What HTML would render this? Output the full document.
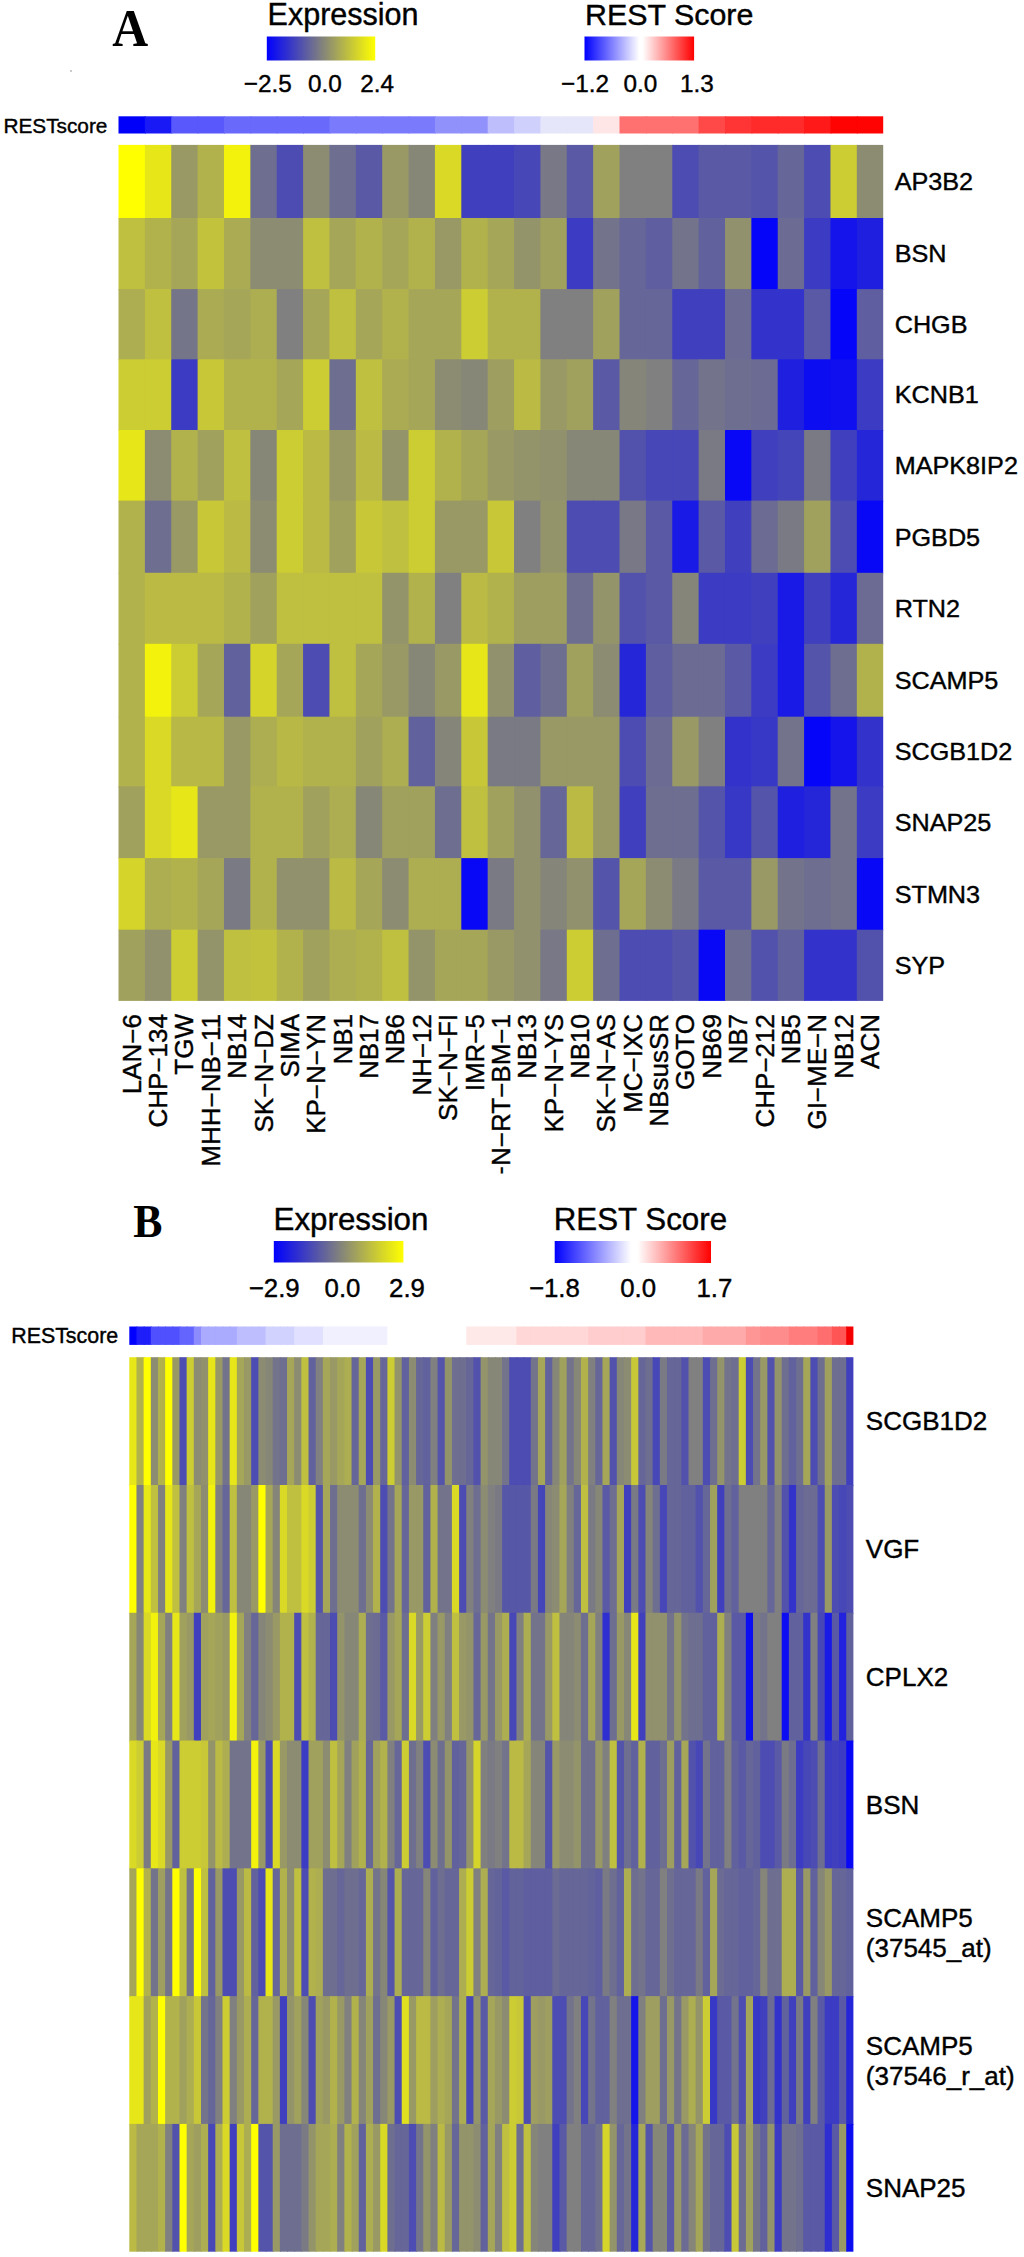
<!DOCTYPE html><html><head><meta charset="utf-8"><title>Heatmap</title><style>html,body{margin:0;padding:0;background:#fff;}body{width:1024px;height:2257px;overflow:hidden;position:relative;}svg{display:block;position:absolute;left:0;top:0;}text{font-family:'Liberation Sans', Arial, sans-serif;fill:#000;stroke:#000;stroke-width:0.4px;}.s{font-family:'Liberation Serif', 'Times New Roman', serif;font-weight:bold;stroke-width:0;}</style></head><body><svg width="1024" height="2257" viewBox="0 0 1024 2257"><defs><linearGradient id="ge" x1="0" x2="1" y1="0" y2="0"><stop offset="0" stop-color="#0000ff"/><stop offset="1" stop-color="#ffff00"/></linearGradient><linearGradient id="grA" x1="0" x2="1" y1="0" y2="0"><stop offset="0" stop-color="#0000ff"/><stop offset="0.50" stop-color="#ffffff"/><stop offset="0.53" stop-color="#ffffff"/><stop offset="1" stop-color="#ff0000"/></linearGradient><linearGradient id="grB" x1="0" x2="1" y1="0" y2="0"><stop offset="0" stop-color="#0000ff"/><stop offset="0.49" stop-color="#ffffff"/><stop offset="0.53" stop-color="#ffffff"/><stop offset="1" stop-color="#ff0000"/></linearGradient></defs><g><rect x="118.50" y="144.90" width="27.37" height="74.10" fill="#ffff00"/><rect x="144.87" y="144.90" width="27.37" height="74.10" fill="#e6e619"/><rect x="171.24" y="144.90" width="27.37" height="74.10" fill="#999966"/><rect x="197.61" y="144.90" width="27.37" height="74.10" fill="#b2b24d"/><rect x="223.98" y="144.90" width="27.37" height="74.10" fill="#f2f20d"/><rect x="250.34" y="144.90" width="27.37" height="74.10" fill="#6e6e91"/><rect x="276.71" y="144.90" width="27.37" height="74.10" fill="#4c4cb2"/><rect x="303.08" y="144.90" width="27.37" height="74.10" fill="#8c8c73"/><rect x="329.45" y="144.90" width="27.37" height="74.10" fill="#6e6e91"/><rect x="355.82" y="144.90" width="27.37" height="74.10" fill="#5959a6"/><rect x="382.19" y="144.90" width="27.37" height="74.10" fill="#999966"/><rect x="408.56" y="144.90" width="27.37" height="74.10" fill="#878778"/><rect x="434.93" y="144.90" width="27.37" height="74.10" fill="#d9d926"/><rect x="461.30" y="144.90" width="27.37" height="74.10" fill="#4040bf"/><rect x="487.67" y="144.90" width="27.37" height="74.10" fill="#4040bf"/><rect x="514.03" y="144.90" width="27.37" height="74.10" fill="#4747b8"/><rect x="540.40" y="144.90" width="27.37" height="74.10" fill="#787887"/><rect x="566.77" y="144.90" width="27.37" height="74.10" fill="#5959a6"/><rect x="593.14" y="144.90" width="27.37" height="74.10" fill="#a1a15e"/><rect x="619.51" y="144.90" width="27.37" height="74.10" fill="#808080"/><rect x="645.88" y="144.90" width="27.37" height="74.10" fill="#808080"/><rect x="672.25" y="144.90" width="27.37" height="74.10" fill="#4c4cb2"/><rect x="698.62" y="144.90" width="27.37" height="74.10" fill="#5959a6"/><rect x="724.99" y="144.90" width="27.37" height="74.10" fill="#5959a6"/><rect x="751.36" y="144.90" width="27.37" height="74.10" fill="#5454ab"/><rect x="777.72" y="144.90" width="27.37" height="74.10" fill="#666699"/><rect x="804.09" y="144.90" width="27.37" height="74.10" fill="#4c4cb2"/><rect x="830.46" y="144.90" width="27.37" height="74.10" fill="#cccc33"/><rect x="856.83" y="144.90" width="26.37" height="74.10" fill="#8c8c73"/><rect x="118.50" y="218.00" width="27.37" height="72.10" fill="#bfbf40"/><rect x="144.87" y="218.00" width="27.37" height="72.10" fill="#b2b24d"/><rect x="171.24" y="218.00" width="27.37" height="72.10" fill="#a6a659"/><rect x="197.61" y="218.00" width="27.37" height="72.10" fill="#c2c23d"/><rect x="223.98" y="218.00" width="27.37" height="72.10" fill="#abab54"/><rect x="250.34" y="218.00" width="27.37" height="72.10" fill="#8c8c73"/><rect x="276.71" y="218.00" width="27.37" height="72.10" fill="#8c8c73"/><rect x="303.08" y="218.00" width="27.37" height="72.10" fill="#bfbf40"/><rect x="329.45" y="218.00" width="27.37" height="72.10" fill="#a6a659"/><rect x="355.82" y="218.00" width="27.37" height="72.10" fill="#b2b24d"/><rect x="382.19" y="218.00" width="27.37" height="72.10" fill="#a6a659"/><rect x="408.56" y="218.00" width="27.37" height="72.10" fill="#b2b24d"/><rect x="434.93" y="218.00" width="27.37" height="72.10" fill="#999966"/><rect x="461.30" y="218.00" width="27.37" height="72.10" fill="#b2b24d"/><rect x="487.67" y="218.00" width="27.37" height="72.10" fill="#a6a659"/><rect x="514.03" y="218.00" width="27.37" height="72.10" fill="#94946b"/><rect x="540.40" y="218.00" width="27.37" height="72.10" fill="#a1a15e"/><rect x="566.77" y="218.00" width="27.37" height="72.10" fill="#3b3bc4"/><rect x="593.14" y="218.00" width="27.37" height="72.10" fill="#73738c"/><rect x="619.51" y="218.00" width="27.37" height="72.10" fill="#666699"/><rect x="645.88" y="218.00" width="27.37" height="72.10" fill="#5e5ea1"/><rect x="672.25" y="218.00" width="27.37" height="72.10" fill="#73738c"/><rect x="698.62" y="218.00" width="27.37" height="72.10" fill="#61619e"/><rect x="724.99" y="218.00" width="27.37" height="72.10" fill="#91916e"/><rect x="751.36" y="218.00" width="27.37" height="72.10" fill="#0505fa"/><rect x="777.72" y="218.00" width="27.37" height="72.10" fill="#6b6b94"/><rect x="804.09" y="218.00" width="27.37" height="72.10" fill="#3b3bc4"/><rect x="830.46" y="218.00" width="27.37" height="72.10" fill="#1414eb"/><rect x="856.83" y="218.00" width="26.37" height="72.10" fill="#1f1fe0"/><rect x="118.50" y="289.10" width="27.37" height="71.20" fill="#adad52"/><rect x="144.87" y="289.10" width="27.37" height="71.20" fill="#bfbf40"/><rect x="171.24" y="289.10" width="27.37" height="71.20" fill="#75758a"/><rect x="197.61" y="289.10" width="27.37" height="71.20" fill="#abab54"/><rect x="223.98" y="289.10" width="27.37" height="71.20" fill="#a6a659"/><rect x="250.34" y="289.10" width="27.37" height="71.20" fill="#adad52"/><rect x="276.71" y="289.10" width="27.37" height="71.20" fill="#808080"/><rect x="303.08" y="289.10" width="27.37" height="71.20" fill="#a6a659"/><rect x="329.45" y="289.10" width="27.37" height="71.20" fill="#bfbf40"/><rect x="355.82" y="289.10" width="27.37" height="71.20" fill="#a6a659"/><rect x="382.19" y="289.10" width="27.37" height="71.20" fill="#b2b24d"/><rect x="408.56" y="289.10" width="27.37" height="71.20" fill="#a6a659"/><rect x="434.93" y="289.10" width="27.37" height="71.20" fill="#a6a659"/><rect x="461.30" y="289.10" width="27.37" height="71.20" fill="#cccc33"/><rect x="487.67" y="289.10" width="27.37" height="71.20" fill="#b2b24d"/><rect x="514.03" y="289.10" width="27.37" height="71.20" fill="#b2b24d"/><rect x="540.40" y="289.10" width="27.37" height="71.20" fill="#808080"/><rect x="566.77" y="289.10" width="27.37" height="71.20" fill="#808080"/><rect x="593.14" y="289.10" width="27.37" height="71.20" fill="#a1a15e"/><rect x="619.51" y="289.10" width="27.37" height="71.20" fill="#666699"/><rect x="645.88" y="289.10" width="27.37" height="71.20" fill="#666699"/><rect x="672.25" y="289.10" width="27.37" height="71.20" fill="#4040bf"/><rect x="698.62" y="289.10" width="27.37" height="71.20" fill="#4040bf"/><rect x="724.99" y="289.10" width="27.37" height="71.20" fill="#6b6b94"/><rect x="751.36" y="289.10" width="27.37" height="71.20" fill="#3333cc"/><rect x="777.72" y="289.10" width="27.37" height="71.20" fill="#3333cc"/><rect x="804.09" y="289.10" width="27.37" height="71.20" fill="#5959a6"/><rect x="830.46" y="289.10" width="27.37" height="71.20" fill="#0505fa"/><rect x="856.83" y="289.10" width="26.37" height="71.20" fill="#5e5ea1"/><rect x="118.50" y="359.30" width="27.37" height="71.70" fill="#cccc33"/><rect x="144.87" y="359.30" width="27.37" height="71.70" fill="#cccc33"/><rect x="171.24" y="359.30" width="27.37" height="71.70" fill="#3b3bc4"/><rect x="197.61" y="359.30" width="27.37" height="71.70" fill="#c7c738"/><rect x="223.98" y="359.30" width="27.37" height="71.70" fill="#b2b24d"/><rect x="250.34" y="359.30" width="27.37" height="71.70" fill="#b2b24d"/><rect x="276.71" y="359.30" width="27.37" height="71.70" fill="#a6a659"/><rect x="303.08" y="359.30" width="27.37" height="71.70" fill="#cccc33"/><rect x="329.45" y="359.30" width="27.37" height="71.70" fill="#6e6e91"/><rect x="355.82" y="359.30" width="27.37" height="71.70" fill="#bfbf40"/><rect x="382.19" y="359.30" width="27.37" height="71.70" fill="#abab54"/><rect x="408.56" y="359.30" width="27.37" height="71.70" fill="#a6a659"/><rect x="434.93" y="359.30" width="27.37" height="71.70" fill="#8c8c73"/><rect x="461.30" y="359.30" width="27.37" height="71.70" fill="#878778"/><rect x="487.67" y="359.30" width="27.37" height="71.70" fill="#9e9e61"/><rect x="514.03" y="359.30" width="27.37" height="71.70" fill="#baba45"/><rect x="540.40" y="359.30" width="27.37" height="71.70" fill="#999966"/><rect x="566.77" y="359.30" width="27.37" height="71.70" fill="#a1a15e"/><rect x="593.14" y="359.30" width="27.37" height="71.70" fill="#5959a6"/><rect x="619.51" y="359.30" width="27.37" height="71.70" fill="#85857a"/><rect x="645.88" y="359.30" width="27.37" height="71.70" fill="#808080"/><rect x="672.25" y="359.30" width="27.37" height="71.70" fill="#666699"/><rect x="698.62" y="359.30" width="27.37" height="71.70" fill="#73738c"/><rect x="724.99" y="359.30" width="27.37" height="71.70" fill="#6e6e91"/><rect x="751.36" y="359.30" width="27.37" height="71.70" fill="#6b6b94"/><rect x="777.72" y="359.30" width="27.37" height="71.70" fill="#1f1fe0"/><rect x="804.09" y="359.30" width="27.37" height="71.70" fill="#0d0df2"/><rect x="830.46" y="359.30" width="27.37" height="71.70" fill="#0f0ff0"/><rect x="856.83" y="359.30" width="26.37" height="71.70" fill="#3b3bc4"/><rect x="118.50" y="430.00" width="27.37" height="71.60" fill="#e6e619"/><rect x="144.87" y="430.00" width="27.37" height="71.60" fill="#8c8c73"/><rect x="171.24" y="430.00" width="27.37" height="71.60" fill="#b2b24d"/><rect x="197.61" y="430.00" width="27.37" height="71.60" fill="#a1a15e"/><rect x="223.98" y="430.00" width="27.37" height="71.60" fill="#bfbf40"/><rect x="250.34" y="430.00" width="27.37" height="71.60" fill="#878778"/><rect x="276.71" y="430.00" width="27.37" height="71.60" fill="#cccc33"/><rect x="303.08" y="430.00" width="27.37" height="71.60" fill="#baba45"/><rect x="329.45" y="430.00" width="27.37" height="71.60" fill="#999966"/><rect x="355.82" y="430.00" width="27.37" height="71.60" fill="#baba45"/><rect x="382.19" y="430.00" width="27.37" height="71.60" fill="#94946b"/><rect x="408.56" y="430.00" width="27.37" height="71.60" fill="#cccc33"/><rect x="434.93" y="430.00" width="27.37" height="71.60" fill="#b2b24d"/><rect x="461.30" y="430.00" width="27.37" height="71.60" fill="#a6a659"/><rect x="487.67" y="430.00" width="27.37" height="71.60" fill="#999966"/><rect x="514.03" y="430.00" width="27.37" height="71.60" fill="#94946b"/><rect x="540.40" y="430.00" width="27.37" height="71.60" fill="#91916e"/><rect x="566.77" y="430.00" width="27.37" height="71.60" fill="#878778"/><rect x="593.14" y="430.00" width="27.37" height="71.60" fill="#878778"/><rect x="619.51" y="430.00" width="27.37" height="71.60" fill="#5252ad"/><rect x="645.88" y="430.00" width="27.37" height="71.60" fill="#4747b8"/><rect x="672.25" y="430.00" width="27.37" height="71.60" fill="#4747b8"/><rect x="698.62" y="430.00" width="27.37" height="71.60" fill="#7a7a85"/><rect x="724.99" y="430.00" width="27.37" height="71.60" fill="#0808f7"/><rect x="751.36" y="430.00" width="27.37" height="71.60" fill="#4040bf"/><rect x="777.72" y="430.00" width="27.37" height="71.60" fill="#4545ba"/><rect x="804.09" y="430.00" width="27.37" height="71.60" fill="#7a7a85"/><rect x="830.46" y="430.00" width="27.37" height="71.60" fill="#4040bf"/><rect x="856.83" y="430.00" width="26.37" height="71.60" fill="#2626d9"/><rect x="118.50" y="500.60" width="27.37" height="73.20" fill="#b2b24d"/><rect x="144.87" y="500.60" width="27.37" height="73.20" fill="#6e6e91"/><rect x="171.24" y="500.60" width="27.37" height="73.20" fill="#999966"/><rect x="197.61" y="500.60" width="27.37" height="73.20" fill="#c7c738"/><rect x="223.98" y="500.60" width="27.37" height="73.20" fill="#baba45"/><rect x="250.34" y="500.60" width="27.37" height="73.20" fill="#8c8c73"/><rect x="276.71" y="500.60" width="27.37" height="73.20" fill="#cccc33"/><rect x="303.08" y="500.60" width="27.37" height="73.20" fill="#baba45"/><rect x="329.45" y="500.60" width="27.37" height="73.20" fill="#a1a15e"/><rect x="355.82" y="500.60" width="27.37" height="73.20" fill="#c7c738"/><rect x="382.19" y="500.60" width="27.37" height="73.20" fill="#bfbf40"/><rect x="408.56" y="500.60" width="27.37" height="73.20" fill="#cccc33"/><rect x="434.93" y="500.60" width="27.37" height="73.20" fill="#999966"/><rect x="461.30" y="500.60" width="27.37" height="73.20" fill="#999966"/><rect x="487.67" y="500.60" width="27.37" height="73.20" fill="#c7c738"/><rect x="514.03" y="500.60" width="27.37" height="73.20" fill="#808080"/><rect x="540.40" y="500.60" width="27.37" height="73.20" fill="#94946b"/><rect x="566.77" y="500.60" width="27.37" height="73.20" fill="#4c4cb2"/><rect x="593.14" y="500.60" width="27.37" height="73.20" fill="#4c4cb2"/><rect x="619.51" y="500.60" width="27.37" height="73.20" fill="#787887"/><rect x="645.88" y="500.60" width="27.37" height="73.20" fill="#5959a6"/><rect x="672.25" y="500.60" width="27.37" height="73.20" fill="#1a1ae6"/><rect x="698.62" y="500.60" width="27.37" height="73.20" fill="#5959a6"/><rect x="724.99" y="500.60" width="27.37" height="73.20" fill="#4040bf"/><rect x="751.36" y="500.60" width="27.37" height="73.20" fill="#6b6b94"/><rect x="777.72" y="500.60" width="27.37" height="73.20" fill="#7a7a85"/><rect x="804.09" y="500.60" width="27.37" height="73.20" fill="#a1a15e"/><rect x="830.46" y="500.60" width="27.37" height="73.20" fill="#4c4cb2"/><rect x="856.83" y="500.60" width="26.37" height="73.20" fill="#0808f7"/><rect x="118.50" y="572.80" width="27.37" height="72.00" fill="#b2b24d"/><rect x="144.87" y="572.80" width="27.37" height="72.00" fill="#baba45"/><rect x="171.24" y="572.80" width="27.37" height="72.00" fill="#baba45"/><rect x="197.61" y="572.80" width="27.37" height="72.00" fill="#baba45"/><rect x="223.98" y="572.80" width="27.37" height="72.00" fill="#b2b24d"/><rect x="250.34" y="572.80" width="27.37" height="72.00" fill="#a1a15e"/><rect x="276.71" y="572.80" width="27.37" height="72.00" fill="#bfbf40"/><rect x="303.08" y="572.80" width="27.37" height="72.00" fill="#bfbf40"/><rect x="329.45" y="572.80" width="27.37" height="72.00" fill="#bfbf40"/><rect x="355.82" y="572.80" width="27.37" height="72.00" fill="#bfbf40"/><rect x="382.19" y="572.80" width="27.37" height="72.00" fill="#94946b"/><rect x="408.56" y="572.80" width="27.37" height="72.00" fill="#b2b24d"/><rect x="434.93" y="572.80" width="27.37" height="72.00" fill="#808080"/><rect x="461.30" y="572.80" width="27.37" height="72.00" fill="#baba45"/><rect x="487.67" y="572.80" width="27.37" height="72.00" fill="#b2b24d"/><rect x="514.03" y="572.80" width="27.37" height="72.00" fill="#9e9e61"/><rect x="540.40" y="572.80" width="27.37" height="72.00" fill="#9e9e61"/><rect x="566.77" y="572.80" width="27.37" height="72.00" fill="#6e6e91"/><rect x="593.14" y="572.80" width="27.37" height="72.00" fill="#94946b"/><rect x="619.51" y="572.80" width="27.37" height="72.00" fill="#5252ad"/><rect x="645.88" y="572.80" width="27.37" height="72.00" fill="#5959a6"/><rect x="672.25" y="572.80" width="27.37" height="72.00" fill="#85857a"/><rect x="698.62" y="572.80" width="27.37" height="72.00" fill="#3b3bc4"/><rect x="724.99" y="572.80" width="27.37" height="72.00" fill="#3b3bc4"/><rect x="751.36" y="572.80" width="27.37" height="72.00" fill="#4040bf"/><rect x="777.72" y="572.80" width="27.37" height="72.00" fill="#1a1ae6"/><rect x="804.09" y="572.80" width="27.37" height="72.00" fill="#4040bf"/><rect x="830.46" y="572.80" width="27.37" height="72.00" fill="#2626d9"/><rect x="856.83" y="572.80" width="26.37" height="72.00" fill="#6b6b94"/><rect x="118.50" y="643.80" width="27.37" height="73.90" fill="#b2b24d"/><rect x="144.87" y="643.80" width="27.37" height="73.90" fill="#f2f20d"/><rect x="171.24" y="643.80" width="27.37" height="73.90" fill="#cccc33"/><rect x="197.61" y="643.80" width="27.37" height="73.90" fill="#a6a659"/><rect x="223.98" y="643.80" width="27.37" height="73.90" fill="#61619e"/><rect x="250.34" y="643.80" width="27.37" height="73.90" fill="#d4d42b"/><rect x="276.71" y="643.80" width="27.37" height="73.90" fill="#a6a659"/><rect x="303.08" y="643.80" width="27.37" height="73.90" fill="#4c4cb2"/><rect x="329.45" y="643.80" width="27.37" height="73.90" fill="#bfbf40"/><rect x="355.82" y="643.80" width="27.37" height="73.90" fill="#a6a659"/><rect x="382.19" y="643.80" width="27.37" height="73.90" fill="#999966"/><rect x="408.56" y="643.80" width="27.37" height="73.90" fill="#878778"/><rect x="434.93" y="643.80" width="27.37" height="73.90" fill="#999966"/><rect x="461.30" y="643.80" width="27.37" height="73.90" fill="#e6e619"/><rect x="487.67" y="643.80" width="27.37" height="73.90" fill="#91916e"/><rect x="514.03" y="643.80" width="27.37" height="73.90" fill="#5e5ea1"/><rect x="540.40" y="643.80" width="27.37" height="73.90" fill="#6e6e91"/><rect x="566.77" y="643.80" width="27.37" height="73.90" fill="#a1a15e"/><rect x="593.14" y="643.80" width="27.37" height="73.90" fill="#8c8c73"/><rect x="619.51" y="643.80" width="27.37" height="73.90" fill="#2626d9"/><rect x="645.88" y="643.80" width="27.37" height="73.90" fill="#5e5ea1"/><rect x="672.25" y="643.80" width="27.37" height="73.90" fill="#6b6b94"/><rect x="698.62" y="643.80" width="27.37" height="73.90" fill="#6b6b94"/><rect x="724.99" y="643.80" width="27.37" height="73.90" fill="#5959a6"/><rect x="751.36" y="643.80" width="27.37" height="73.90" fill="#3b3bc4"/><rect x="777.72" y="643.80" width="27.37" height="73.90" fill="#1a1ae6"/><rect x="804.09" y="643.80" width="27.37" height="73.90" fill="#5454ab"/><rect x="830.46" y="643.80" width="27.37" height="73.90" fill="#6e6e91"/><rect x="856.83" y="643.80" width="26.37" height="73.90" fill="#b2b24d"/><rect x="118.50" y="716.70" width="27.37" height="70.60" fill="#b2b24d"/><rect x="144.87" y="716.70" width="27.37" height="70.60" fill="#d9d926"/><rect x="171.24" y="716.70" width="27.37" height="70.60" fill="#b8b847"/><rect x="197.61" y="716.70" width="27.37" height="70.60" fill="#b8b847"/><rect x="223.98" y="716.70" width="27.37" height="70.60" fill="#999966"/><rect x="250.34" y="716.70" width="27.37" height="70.60" fill="#adad52"/><rect x="276.71" y="716.70" width="27.37" height="70.60" fill="#b8b847"/><rect x="303.08" y="716.70" width="27.37" height="70.60" fill="#b2b24d"/><rect x="329.45" y="716.70" width="27.37" height="70.60" fill="#b2b24d"/><rect x="355.82" y="716.70" width="27.37" height="70.60" fill="#a1a15e"/><rect x="382.19" y="716.70" width="27.37" height="70.60" fill="#adad52"/><rect x="408.56" y="716.70" width="27.37" height="70.60" fill="#61619e"/><rect x="434.93" y="716.70" width="27.37" height="70.60" fill="#85857a"/><rect x="461.30" y="716.70" width="27.37" height="70.60" fill="#c7c738"/><rect x="487.67" y="716.70" width="27.37" height="70.60" fill="#7a7a85"/><rect x="514.03" y="716.70" width="27.37" height="70.60" fill="#7a7a85"/><rect x="540.40" y="716.70" width="27.37" height="70.60" fill="#999966"/><rect x="566.77" y="716.70" width="27.37" height="70.60" fill="#999966"/><rect x="593.14" y="716.70" width="27.37" height="70.60" fill="#999966"/><rect x="619.51" y="716.70" width="27.37" height="70.60" fill="#4c4cb2"/><rect x="645.88" y="716.70" width="27.37" height="70.60" fill="#6b6b94"/><rect x="672.25" y="716.70" width="27.37" height="70.60" fill="#999966"/><rect x="698.62" y="716.70" width="27.37" height="70.60" fill="#808080"/><rect x="724.99" y="716.70" width="27.37" height="70.60" fill="#3333cc"/><rect x="751.36" y="716.70" width="27.37" height="70.60" fill="#3838c7"/><rect x="777.72" y="716.70" width="27.37" height="70.60" fill="#73738c"/><rect x="804.09" y="716.70" width="27.37" height="70.60" fill="#0505fa"/><rect x="830.46" y="716.70" width="27.37" height="70.60" fill="#1414eb"/><rect x="856.83" y="716.70" width="26.37" height="70.60" fill="#3333cc"/><rect x="118.50" y="786.30" width="27.37" height="72.80" fill="#a1a15e"/><rect x="144.87" y="786.30" width="27.37" height="72.80" fill="#d9d926"/><rect x="171.24" y="786.30" width="27.37" height="72.80" fill="#e6e619"/><rect x="197.61" y="786.30" width="27.37" height="72.80" fill="#999966"/><rect x="223.98" y="786.30" width="27.37" height="72.80" fill="#999966"/><rect x="250.34" y="786.30" width="27.37" height="72.80" fill="#b2b24d"/><rect x="276.71" y="786.30" width="27.37" height="72.80" fill="#b2b24d"/><rect x="303.08" y="786.30" width="27.37" height="72.80" fill="#a1a15e"/><rect x="329.45" y="786.30" width="27.37" height="72.80" fill="#adad52"/><rect x="355.82" y="786.30" width="27.37" height="72.80" fill="#878778"/><rect x="382.19" y="786.30" width="27.37" height="72.80" fill="#a1a15e"/><rect x="408.56" y="786.30" width="27.37" height="72.80" fill="#a1a15e"/><rect x="434.93" y="786.30" width="27.37" height="72.80" fill="#6e6e91"/><rect x="461.30" y="786.30" width="27.37" height="72.80" fill="#bfbf40"/><rect x="487.67" y="786.30" width="27.37" height="72.80" fill="#a1a15e"/><rect x="514.03" y="786.30" width="27.37" height="72.80" fill="#91916e"/><rect x="540.40" y="786.30" width="27.37" height="72.80" fill="#666699"/><rect x="566.77" y="786.30" width="27.37" height="72.80" fill="#baba45"/><rect x="593.14" y="786.30" width="27.37" height="72.80" fill="#999966"/><rect x="619.51" y="786.30" width="27.37" height="72.80" fill="#4040bf"/><rect x="645.88" y="786.30" width="27.37" height="72.80" fill="#6e6e91"/><rect x="672.25" y="786.30" width="27.37" height="72.80" fill="#6e6e91"/><rect x="698.62" y="786.30" width="27.37" height="72.80" fill="#5454ab"/><rect x="724.99" y="786.30" width="27.37" height="72.80" fill="#3838c7"/><rect x="751.36" y="786.30" width="27.37" height="72.80" fill="#5454ab"/><rect x="777.72" y="786.30" width="27.37" height="72.80" fill="#1f1fe0"/><rect x="804.09" y="786.30" width="27.37" height="72.80" fill="#2626d9"/><rect x="830.46" y="786.30" width="27.37" height="72.80" fill="#73738c"/><rect x="856.83" y="786.30" width="26.37" height="72.80" fill="#3b3bc4"/><rect x="118.50" y="858.10" width="27.37" height="72.60" fill="#d4d42b"/><rect x="144.87" y="858.10" width="27.37" height="72.60" fill="#adad52"/><rect x="171.24" y="858.10" width="27.37" height="72.60" fill="#b2b24d"/><rect x="197.61" y="858.10" width="27.37" height="72.60" fill="#a6a659"/><rect x="223.98" y="858.10" width="27.37" height="72.60" fill="#7a7a85"/><rect x="250.34" y="858.10" width="27.37" height="72.60" fill="#b2b24d"/><rect x="276.71" y="858.10" width="27.37" height="72.60" fill="#91916e"/><rect x="303.08" y="858.10" width="27.37" height="72.60" fill="#91916e"/><rect x="329.45" y="858.10" width="27.37" height="72.60" fill="#baba45"/><rect x="355.82" y="858.10" width="27.37" height="72.60" fill="#a6a659"/><rect x="382.19" y="858.10" width="27.37" height="72.60" fill="#8c8c73"/><rect x="408.56" y="858.10" width="27.37" height="72.60" fill="#adad52"/><rect x="434.93" y="858.10" width="27.37" height="72.60" fill="#adad52"/><rect x="461.30" y="858.10" width="27.37" height="72.60" fill="#0808f7"/><rect x="487.67" y="858.10" width="27.37" height="72.60" fill="#7a7a85"/><rect x="514.03" y="858.10" width="27.37" height="72.60" fill="#91916e"/><rect x="540.40" y="858.10" width="27.37" height="72.60" fill="#85857a"/><rect x="566.77" y="858.10" width="27.37" height="72.60" fill="#91916e"/><rect x="593.14" y="858.10" width="27.37" height="72.60" fill="#5454ab"/><rect x="619.51" y="858.10" width="27.37" height="72.60" fill="#a6a659"/><rect x="645.88" y="858.10" width="27.37" height="72.60" fill="#8c8c73"/><rect x="672.25" y="858.10" width="27.37" height="72.60" fill="#7a7a85"/><rect x="698.62" y="858.10" width="27.37" height="72.60" fill="#5959a6"/><rect x="724.99" y="858.10" width="27.37" height="72.60" fill="#5959a6"/><rect x="751.36" y="858.10" width="27.37" height="72.60" fill="#999966"/><rect x="777.72" y="858.10" width="27.37" height="72.60" fill="#73738c"/><rect x="804.09" y="858.10" width="27.37" height="72.60" fill="#6e6e91"/><rect x="830.46" y="858.10" width="27.37" height="72.60" fill="#73738c"/><rect x="856.83" y="858.10" width="26.37" height="72.60" fill="#0808f7"/><rect x="118.50" y="929.70" width="27.37" height="71.20" fill="#a1a15e"/><rect x="144.87" y="929.70" width="27.37" height="71.20" fill="#91916e"/><rect x="171.24" y="929.70" width="27.37" height="71.20" fill="#cccc33"/><rect x="197.61" y="929.70" width="27.37" height="71.20" fill="#94946b"/><rect x="223.98" y="929.70" width="27.37" height="71.20" fill="#bfbf40"/><rect x="250.34" y="929.70" width="27.37" height="71.20" fill="#c2c23d"/><rect x="276.71" y="929.70" width="27.37" height="71.20" fill="#b2b24d"/><rect x="303.08" y="929.70" width="27.37" height="71.20" fill="#a1a15e"/><rect x="329.45" y="929.70" width="27.37" height="71.20" fill="#adad52"/><rect x="355.82" y="929.70" width="27.37" height="71.20" fill="#b2b24d"/><rect x="382.19" y="929.70" width="27.37" height="71.20" fill="#bfbf40"/><rect x="408.56" y="929.70" width="27.37" height="71.20" fill="#94946b"/><rect x="434.93" y="929.70" width="27.37" height="71.20" fill="#a6a659"/><rect x="461.30" y="929.70" width="27.37" height="71.20" fill="#a6a659"/><rect x="487.67" y="929.70" width="27.37" height="71.20" fill="#999966"/><rect x="514.03" y="929.70" width="27.37" height="71.20" fill="#91916e"/><rect x="540.40" y="929.70" width="27.37" height="71.20" fill="#787887"/><rect x="566.77" y="929.70" width="27.37" height="71.20" fill="#cccc33"/><rect x="593.14" y="929.70" width="27.37" height="71.20" fill="#6e6e91"/><rect x="619.51" y="929.70" width="27.37" height="71.20" fill="#4c4cb2"/><rect x="645.88" y="929.70" width="27.37" height="71.20" fill="#4c4cb2"/><rect x="672.25" y="929.70" width="27.37" height="71.20" fill="#5454ab"/><rect x="698.62" y="929.70" width="27.37" height="71.20" fill="#0808f7"/><rect x="724.99" y="929.70" width="27.37" height="71.20" fill="#6e6e91"/><rect x="751.36" y="929.70" width="27.37" height="71.20" fill="#5252ad"/><rect x="777.72" y="929.70" width="27.37" height="71.20" fill="#61619e"/><rect x="804.09" y="929.70" width="27.37" height="71.20" fill="#3333cc"/><rect x="830.46" y="929.70" width="27.37" height="71.20" fill="#3333cc"/><rect x="856.83" y="929.70" width="26.37" height="71.20" fill="#5252ad"/><rect x="118.50" y="116.30" width="27.37" height="17.20" fill="#0000fa"/><rect x="144.87" y="116.30" width="27.37" height="17.20" fill="#1919f5"/><rect x="171.24" y="116.30" width="27.37" height="17.20" fill="#5858fc"/><rect x="197.61" y="116.30" width="27.37" height="17.20" fill="#5858fc"/><rect x="223.98" y="116.30" width="27.37" height="17.20" fill="#6969fc"/><rect x="250.34" y="116.30" width="27.37" height="17.20" fill="#6969fc"/><rect x="276.71" y="116.30" width="27.37" height="17.20" fill="#6969fc"/><rect x="303.08" y="116.30" width="27.37" height="17.20" fill="#6969fc"/><rect x="329.45" y="116.30" width="27.37" height="17.20" fill="#7a7afd"/><rect x="355.82" y="116.30" width="27.37" height="17.20" fill="#7a7afd"/><rect x="382.19" y="116.30" width="27.37" height="17.20" fill="#7a7afd"/><rect x="408.56" y="116.30" width="27.37" height="17.20" fill="#7a7afd"/><rect x="434.93" y="116.30" width="27.37" height="17.20" fill="#9191fc"/><rect x="461.30" y="116.30" width="27.37" height="17.20" fill="#9191fc"/><rect x="487.67" y="116.30" width="27.37" height="17.20" fill="#bebefc"/><rect x="514.03" y="116.30" width="27.37" height="17.20" fill="#d0d0fc"/><rect x="540.40" y="116.30" width="27.37" height="17.20" fill="#e6e6fa"/><rect x="566.77" y="116.30" width="27.37" height="17.20" fill="#e6e6fa"/><rect x="593.14" y="116.30" width="27.37" height="17.20" fill="#ffe6e6"/><rect x="619.51" y="116.30" width="27.37" height="17.20" fill="#ff7070"/><rect x="645.88" y="116.30" width="27.37" height="17.20" fill="#ff7070"/><rect x="672.25" y="116.30" width="27.37" height="17.20" fill="#ff7070"/><rect x="698.62" y="116.30" width="27.37" height="17.20" fill="#ff4848"/><rect x="724.99" y="116.30" width="27.37" height="17.20" fill="#ff3434"/><rect x="751.36" y="116.30" width="27.37" height="17.20" fill="#ff2a2a"/><rect x="777.72" y="116.30" width="27.37" height="17.20" fill="#ff2a2a"/><rect x="804.09" y="116.30" width="27.37" height="17.20" fill="#ff1919"/><rect x="830.46" y="116.30" width="27.37" height="17.20" fill="#ff0202"/><rect x="856.83" y="116.30" width="26.37" height="17.20" fill="#ff0202"/><rect x="129.30" y="1357.20" width="8.17" height="128.79" fill="#e6e619"/><rect x="136.47" y="1357.20" width="8.17" height="128.79" fill="#b2b24d"/><rect x="143.64" y="1357.20" width="8.17" height="128.79" fill="#ffff00"/><rect x="150.81" y="1357.20" width="8.17" height="128.79" fill="#8c8c73"/><rect x="157.98" y="1357.20" width="8.17" height="128.79" fill="#b2b24d"/><rect x="165.15" y="1357.20" width="8.17" height="128.79" fill="#ffff00"/><rect x="172.32" y="1357.20" width="8.17" height="128.79" fill="#999966"/><rect x="179.49" y="1357.20" width="8.17" height="128.79" fill="#4c4cb2"/><rect x="186.65" y="1357.20" width="8.17" height="128.79" fill="#cccc33"/><rect x="193.82" y="1357.20" width="8.17" height="128.79" fill="#8c8c73"/><rect x="200.99" y="1357.20" width="8.17" height="128.79" fill="#91916e"/><rect x="208.16" y="1357.20" width="8.17" height="128.79" fill="#e6e619"/><rect x="215.33" y="1357.20" width="8.17" height="128.79" fill="#999966"/><rect x="222.50" y="1357.20" width="8.17" height="128.79" fill="#73738c"/><rect x="229.67" y="1357.20" width="8.17" height="128.79" fill="#e6e619"/><rect x="236.84" y="1357.20" width="8.17" height="128.79" fill="#a6a659"/><rect x="244.01" y="1357.20" width="8.17" height="128.79" fill="#999966"/><rect x="251.18" y="1357.20" width="8.17" height="128.79" fill="#4c4cb2"/><rect x="258.35" y="1357.20" width="8.17" height="128.79" fill="#8c8c73"/><rect x="265.52" y="1357.20" width="8.17" height="128.79" fill="#878778"/><rect x="272.69" y="1357.20" width="8.17" height="128.79" fill="#73738c"/><rect x="279.86" y="1357.20" width="8.17" height="128.79" fill="#6e6e91"/><rect x="287.02" y="1357.20" width="8.17" height="128.79" fill="#a6a659"/><rect x="294.19" y="1357.20" width="8.17" height="128.79" fill="#8c8c73"/><rect x="301.36" y="1357.20" width="8.17" height="128.79" fill="#bfbf40"/><rect x="308.53" y="1357.20" width="8.17" height="128.79" fill="#61619e"/><rect x="315.70" y="1357.20" width="8.17" height="128.79" fill="#808080"/><rect x="322.87" y="1357.20" width="8.17" height="128.79" fill="#a6a659"/><rect x="330.04" y="1357.20" width="8.17" height="128.79" fill="#999966"/><rect x="337.21" y="1357.20" width="8.17" height="128.79" fill="#a6a659"/><rect x="344.38" y="1357.20" width="8.17" height="128.79" fill="#adad52"/><rect x="351.55" y="1357.20" width="8.17" height="128.79" fill="#666699"/><rect x="358.72" y="1357.20" width="8.17" height="128.79" fill="#a6a659"/><rect x="365.89" y="1357.20" width="8.17" height="128.79" fill="#4c4cb2"/><rect x="373.06" y="1357.20" width="8.17" height="128.79" fill="#999966"/><rect x="380.23" y="1357.20" width="8.17" height="128.79" fill="#666699"/><rect x="387.40" y="1357.20" width="8.17" height="128.79" fill="#cccc33"/><rect x="394.56" y="1357.20" width="8.17" height="128.79" fill="#94946b"/><rect x="401.73" y="1357.20" width="8.17" height="128.79" fill="#61619e"/><rect x="408.90" y="1357.20" width="8.17" height="128.79" fill="#8c8c73"/><rect x="416.07" y="1357.20" width="8.17" height="128.79" fill="#666699"/><rect x="423.24" y="1357.20" width="8.17" height="128.79" fill="#61619e"/><rect x="430.41" y="1357.20" width="8.17" height="128.79" fill="#808080"/><rect x="437.58" y="1357.20" width="8.17" height="128.79" fill="#5454ab"/><rect x="444.75" y="1357.20" width="8.17" height="128.79" fill="#94946b"/><rect x="451.92" y="1357.20" width="8.17" height="128.79" fill="#6e6e91"/><rect x="459.09" y="1357.20" width="8.17" height="128.79" fill="#6e6e91"/><rect x="466.26" y="1357.20" width="8.17" height="128.79" fill="#666699"/><rect x="473.43" y="1357.20" width="8.17" height="128.79" fill="#5252ad"/><rect x="480.60" y="1357.20" width="8.17" height="128.79" fill="#94946b"/><rect x="487.77" y="1357.20" width="8.17" height="128.79" fill="#878778"/><rect x="494.93" y="1357.20" width="8.17" height="128.79" fill="#878778"/><rect x="502.10" y="1357.20" width="8.17" height="128.79" fill="#73738c"/><rect x="509.27" y="1357.20" width="8.17" height="128.79" fill="#4c4cb2"/><rect x="516.44" y="1357.20" width="8.17" height="128.79" fill="#4c4cb2"/><rect x="523.61" y="1357.20" width="8.17" height="128.79" fill="#4c4cb2"/><rect x="530.78" y="1357.20" width="8.17" height="128.79" fill="#73738c"/><rect x="537.95" y="1357.20" width="8.17" height="128.79" fill="#a6a659"/><rect x="545.12" y="1357.20" width="8.17" height="128.79" fill="#61619e"/><rect x="552.29" y="1357.20" width="8.17" height="128.79" fill="#878778"/><rect x="559.46" y="1357.20" width="8.17" height="128.79" fill="#a1a15e"/><rect x="566.63" y="1357.20" width="8.17" height="128.79" fill="#73738c"/><rect x="573.80" y="1357.20" width="8.17" height="128.79" fill="#878778"/><rect x="580.97" y="1357.20" width="8.17" height="128.79" fill="#b2b24d"/><rect x="588.14" y="1357.20" width="8.17" height="128.79" fill="#808080"/><rect x="595.30" y="1357.20" width="8.17" height="128.79" fill="#666699"/><rect x="602.47" y="1357.20" width="8.17" height="128.79" fill="#a6a659"/><rect x="609.64" y="1357.20" width="8.17" height="128.79" fill="#5252ad"/><rect x="616.81" y="1357.20" width="8.17" height="128.79" fill="#878778"/><rect x="623.98" y="1357.20" width="8.17" height="128.79" fill="#8c8c73"/><rect x="631.15" y="1357.20" width="8.17" height="128.79" fill="#c7c738"/><rect x="638.32" y="1357.20" width="8.17" height="128.79" fill="#666699"/><rect x="645.49" y="1357.20" width="8.17" height="128.79" fill="#6e6e91"/><rect x="652.66" y="1357.20" width="8.17" height="128.79" fill="#4747b8"/><rect x="659.83" y="1357.20" width="8.17" height="128.79" fill="#7a7a85"/><rect x="667.00" y="1357.20" width="8.17" height="128.79" fill="#666699"/><rect x="674.17" y="1357.20" width="8.17" height="128.79" fill="#666699"/><rect x="681.34" y="1357.20" width="8.17" height="128.79" fill="#5252ad"/><rect x="688.51" y="1357.20" width="8.17" height="128.79" fill="#808080"/><rect x="695.68" y="1357.20" width="8.17" height="128.79" fill="#808080"/><rect x="702.84" y="1357.20" width="8.17" height="128.79" fill="#4c4cb2"/><rect x="710.01" y="1357.20" width="8.17" height="128.79" fill="#6e6e91"/><rect x="717.18" y="1357.20" width="8.17" height="128.79" fill="#94946b"/><rect x="724.35" y="1357.20" width="8.17" height="128.79" fill="#73738c"/><rect x="731.52" y="1357.20" width="8.17" height="128.79" fill="#6e6e91"/><rect x="738.69" y="1357.20" width="8.17" height="128.79" fill="#cccc33"/><rect x="745.86" y="1357.20" width="8.17" height="128.79" fill="#4c4cb2"/><rect x="753.03" y="1357.20" width="8.17" height="128.79" fill="#73738c"/><rect x="760.20" y="1357.20" width="8.17" height="128.79" fill="#999966"/><rect x="767.37" y="1357.20" width="8.17" height="128.79" fill="#5252ad"/><rect x="774.54" y="1357.20" width="8.17" height="128.79" fill="#94946b"/><rect x="781.71" y="1357.20" width="8.17" height="128.79" fill="#6e6e91"/><rect x="788.88" y="1357.20" width="8.17" height="128.79" fill="#61619e"/><rect x="796.05" y="1357.20" width="8.17" height="128.79" fill="#6e6e91"/><rect x="803.21" y="1357.20" width="8.17" height="128.79" fill="#a6a659"/><rect x="810.38" y="1357.20" width="8.17" height="128.79" fill="#4c4cb2"/><rect x="817.55" y="1357.20" width="8.17" height="128.79" fill="#6e6e91"/><rect x="824.72" y="1357.20" width="8.17" height="128.79" fill="#a1a15e"/><rect x="831.89" y="1357.20" width="8.17" height="128.79" fill="#6e6e91"/><rect x="839.06" y="1357.20" width="8.17" height="128.79" fill="#6e6e91"/><rect x="846.23" y="1357.20" width="7.17" height="128.79" fill="#4040bf"/><rect x="129.30" y="1484.99" width="8.17" height="128.79" fill="#ffff00"/><rect x="136.47" y="1484.99" width="8.17" height="128.79" fill="#808080"/><rect x="143.64" y="1484.99" width="8.17" height="128.79" fill="#e6e619"/><rect x="150.81" y="1484.99" width="8.17" height="128.79" fill="#bfbf40"/><rect x="157.98" y="1484.99" width="8.17" height="128.79" fill="#808080"/><rect x="165.15" y="1484.99" width="8.17" height="128.79" fill="#e6e619"/><rect x="172.32" y="1484.99" width="8.17" height="128.79" fill="#bfbf40"/><rect x="179.49" y="1484.99" width="8.17" height="128.79" fill="#808080"/><rect x="186.65" y="1484.99" width="8.17" height="128.79" fill="#bfbf40"/><rect x="193.82" y="1484.99" width="8.17" height="128.79" fill="#a6a659"/><rect x="200.99" y="1484.99" width="8.17" height="128.79" fill="#8c8c73"/><rect x="208.16" y="1484.99" width="8.17" height="128.79" fill="#f2f20d"/><rect x="215.33" y="1484.99" width="8.17" height="128.79" fill="#808080"/><rect x="222.50" y="1484.99" width="8.17" height="128.79" fill="#666699"/><rect x="229.67" y="1484.99" width="8.17" height="128.79" fill="#bfbf40"/><rect x="236.84" y="1484.99" width="8.17" height="128.79" fill="#878778"/><rect x="244.01" y="1484.99" width="8.17" height="128.79" fill="#878778"/><rect x="251.18" y="1484.99" width="8.17" height="128.79" fill="#999966"/><rect x="258.35" y="1484.99" width="8.17" height="128.79" fill="#ffff00"/><rect x="265.52" y="1484.99" width="8.17" height="128.79" fill="#a6a659"/><rect x="272.69" y="1484.99" width="8.17" height="128.79" fill="#85857a"/><rect x="279.86" y="1484.99" width="8.17" height="128.79" fill="#d9d926"/><rect x="287.02" y="1484.99" width="8.17" height="128.79" fill="#bfbf40"/><rect x="294.19" y="1484.99" width="8.17" height="128.79" fill="#bfbf40"/><rect x="301.36" y="1484.99" width="8.17" height="128.79" fill="#d9d926"/><rect x="308.53" y="1484.99" width="8.17" height="128.79" fill="#cccc33"/><rect x="315.70" y="1484.99" width="8.17" height="128.79" fill="#5454ab"/><rect x="322.87" y="1484.99" width="8.17" height="128.79" fill="#a6a659"/><rect x="330.04" y="1484.99" width="8.17" height="128.79" fill="#6e6e91"/><rect x="337.21" y="1484.99" width="8.17" height="128.79" fill="#8c8c73"/><rect x="344.38" y="1484.99" width="8.17" height="128.79" fill="#8c8c73"/><rect x="351.55" y="1484.99" width="8.17" height="128.79" fill="#8c8c73"/><rect x="358.72" y="1484.99" width="8.17" height="128.79" fill="#6e6e91"/><rect x="365.89" y="1484.99" width="8.17" height="128.79" fill="#8c8c73"/><rect x="373.06" y="1484.99" width="8.17" height="128.79" fill="#b2b24d"/><rect x="380.23" y="1484.99" width="8.17" height="128.79" fill="#4c4cb2"/><rect x="387.40" y="1484.99" width="8.17" height="128.79" fill="#73738c"/><rect x="394.56" y="1484.99" width="8.17" height="128.79" fill="#a6a659"/><rect x="401.73" y="1484.99" width="8.17" height="128.79" fill="#666699"/><rect x="408.90" y="1484.99" width="8.17" height="128.79" fill="#999966"/><rect x="416.07" y="1484.99" width="8.17" height="128.79" fill="#999966"/><rect x="423.24" y="1484.99" width="8.17" height="128.79" fill="#61619e"/><rect x="430.41" y="1484.99" width="8.17" height="128.79" fill="#b2b24d"/><rect x="437.58" y="1484.99" width="8.17" height="128.79" fill="#73738c"/><rect x="444.75" y="1484.99" width="8.17" height="128.79" fill="#73738c"/><rect x="451.92" y="1484.99" width="8.17" height="128.79" fill="#d9d926"/><rect x="459.09" y="1484.99" width="8.17" height="128.79" fill="#4c4cb2"/><rect x="466.26" y="1484.99" width="8.17" height="128.79" fill="#808080"/><rect x="473.43" y="1484.99" width="8.17" height="128.79" fill="#6e6e91"/><rect x="480.60" y="1484.99" width="8.17" height="128.79" fill="#8c8c73"/><rect x="487.77" y="1484.99" width="8.17" height="128.79" fill="#808080"/><rect x="494.93" y="1484.99" width="8.17" height="128.79" fill="#7a7a85"/><rect x="502.10" y="1484.99" width="8.17" height="128.79" fill="#5757a8"/><rect x="509.27" y="1484.99" width="8.17" height="128.79" fill="#5757a8"/><rect x="516.44" y="1484.99" width="8.17" height="128.79" fill="#5757a8"/><rect x="523.61" y="1484.99" width="8.17" height="128.79" fill="#5757a8"/><rect x="530.78" y="1484.99" width="8.17" height="128.79" fill="#7a7a85"/><rect x="537.95" y="1484.99" width="8.17" height="128.79" fill="#4545ba"/><rect x="545.12" y="1484.99" width="8.17" height="128.79" fill="#878778"/><rect x="552.29" y="1484.99" width="8.17" height="128.79" fill="#8c8c73"/><rect x="559.46" y="1484.99" width="8.17" height="128.79" fill="#a6a659"/><rect x="566.63" y="1484.99" width="8.17" height="128.79" fill="#808080"/><rect x="573.80" y="1484.99" width="8.17" height="128.79" fill="#666699"/><rect x="580.97" y="1484.99" width="8.17" height="128.79" fill="#bfbf40"/><rect x="588.14" y="1484.99" width="8.17" height="128.79" fill="#7a7a85"/><rect x="595.30" y="1484.99" width="8.17" height="128.79" fill="#878778"/><rect x="602.47" y="1484.99" width="8.17" height="128.79" fill="#5959a6"/><rect x="609.64" y="1484.99" width="8.17" height="128.79" fill="#6e6e91"/><rect x="616.81" y="1484.99" width="8.17" height="128.79" fill="#a6a659"/><rect x="623.98" y="1484.99" width="8.17" height="128.79" fill="#4040bf"/><rect x="631.15" y="1484.99" width="8.17" height="128.79" fill="#7a7a85"/><rect x="638.32" y="1484.99" width="8.17" height="128.79" fill="#4c4cb2"/><rect x="645.49" y="1484.99" width="8.17" height="128.79" fill="#85857a"/><rect x="652.66" y="1484.99" width="8.17" height="128.79" fill="#6e6e91"/><rect x="659.83" y="1484.99" width="8.17" height="128.79" fill="#4747b8"/><rect x="667.00" y="1484.99" width="8.17" height="128.79" fill="#666699"/><rect x="674.17" y="1484.99" width="8.17" height="128.79" fill="#666699"/><rect x="681.34" y="1484.99" width="8.17" height="128.79" fill="#61619e"/><rect x="688.51" y="1484.99" width="8.17" height="128.79" fill="#61619e"/><rect x="695.68" y="1484.99" width="8.17" height="128.79" fill="#5252ad"/><rect x="702.84" y="1484.99" width="8.17" height="128.79" fill="#666699"/><rect x="710.01" y="1484.99" width="8.17" height="128.79" fill="#a1a15e"/><rect x="717.18" y="1484.99" width="8.17" height="128.79" fill="#4040bf"/><rect x="724.35" y="1484.99" width="8.17" height="128.79" fill="#6e6e91"/><rect x="731.52" y="1484.99" width="8.17" height="128.79" fill="#61619e"/><rect x="738.69" y="1484.99" width="8.17" height="128.79" fill="#808080"/><rect x="745.86" y="1484.99" width="8.17" height="128.79" fill="#808080"/><rect x="753.03" y="1484.99" width="8.17" height="128.79" fill="#808080"/><rect x="760.20" y="1484.99" width="8.17" height="128.79" fill="#808080"/><rect x="767.37" y="1484.99" width="8.17" height="128.79" fill="#666699"/><rect x="774.54" y="1484.99" width="8.17" height="128.79" fill="#808080"/><rect x="781.71" y="1484.99" width="8.17" height="128.79" fill="#5252ad"/><rect x="788.88" y="1484.99" width="8.17" height="128.79" fill="#3333cc"/><rect x="796.05" y="1484.99" width="8.17" height="128.79" fill="#666699"/><rect x="803.21" y="1484.99" width="8.17" height="128.79" fill="#6b6b94"/><rect x="810.38" y="1484.99" width="8.17" height="128.79" fill="#6b6b94"/><rect x="817.55" y="1484.99" width="8.17" height="128.79" fill="#4c4cb2"/><rect x="824.72" y="1484.99" width="8.17" height="128.79" fill="#999966"/><rect x="831.89" y="1484.99" width="8.17" height="128.79" fill="#4c4cb2"/><rect x="839.06" y="1484.99" width="8.17" height="128.79" fill="#4747b8"/><rect x="846.23" y="1484.99" width="7.17" height="128.79" fill="#4c4cb2"/><rect x="129.30" y="1612.77" width="8.17" height="128.79" fill="#a6a659"/><rect x="136.47" y="1612.77" width="8.17" height="128.79" fill="#878778"/><rect x="143.64" y="1612.77" width="8.17" height="128.79" fill="#d9d926"/><rect x="150.81" y="1612.77" width="8.17" height="128.79" fill="#f2f20d"/><rect x="157.98" y="1612.77" width="8.17" height="128.79" fill="#a6a659"/><rect x="165.15" y="1612.77" width="8.17" height="128.79" fill="#808080"/><rect x="172.32" y="1612.77" width="8.17" height="128.79" fill="#e6e619"/><rect x="179.49" y="1612.77" width="8.17" height="128.79" fill="#a1a15e"/><rect x="186.65" y="1612.77" width="8.17" height="128.79" fill="#999966"/><rect x="193.82" y="1612.77" width="8.17" height="128.79" fill="#4040bf"/><rect x="200.99" y="1612.77" width="8.17" height="128.79" fill="#a1a15e"/><rect x="208.16" y="1612.77" width="8.17" height="128.79" fill="#a6a659"/><rect x="215.33" y="1612.77" width="8.17" height="128.79" fill="#a1a15e"/><rect x="222.50" y="1612.77" width="8.17" height="128.79" fill="#999966"/><rect x="229.67" y="1612.77" width="8.17" height="128.79" fill="#f2f20d"/><rect x="236.84" y="1612.77" width="8.17" height="128.79" fill="#a6a659"/><rect x="244.01" y="1612.77" width="8.17" height="128.79" fill="#808080"/><rect x="251.18" y="1612.77" width="8.17" height="128.79" fill="#666699"/><rect x="258.35" y="1612.77" width="8.17" height="128.79" fill="#85857a"/><rect x="265.52" y="1612.77" width="8.17" height="128.79" fill="#8c8c73"/><rect x="272.69" y="1612.77" width="8.17" height="128.79" fill="#999966"/><rect x="279.86" y="1612.77" width="8.17" height="128.79" fill="#b2b24d"/><rect x="287.02" y="1612.77" width="8.17" height="128.79" fill="#b2b24d"/><rect x="294.19" y="1612.77" width="8.17" height="128.79" fill="#4c4cb2"/><rect x="301.36" y="1612.77" width="8.17" height="128.79" fill="#bfbf40"/><rect x="308.53" y="1612.77" width="8.17" height="128.79" fill="#b2b24d"/><rect x="315.70" y="1612.77" width="8.17" height="128.79" fill="#666699"/><rect x="322.87" y="1612.77" width="8.17" height="128.79" fill="#666699"/><rect x="330.04" y="1612.77" width="8.17" height="128.79" fill="#4c4cb2"/><rect x="337.21" y="1612.77" width="8.17" height="128.79" fill="#94946b"/><rect x="344.38" y="1612.77" width="8.17" height="128.79" fill="#878778"/><rect x="351.55" y="1612.77" width="8.17" height="128.79" fill="#878778"/><rect x="358.72" y="1612.77" width="8.17" height="128.79" fill="#adad52"/><rect x="365.89" y="1612.77" width="8.17" height="128.79" fill="#6e6e91"/><rect x="373.06" y="1612.77" width="8.17" height="128.79" fill="#6b6b94"/><rect x="380.23" y="1612.77" width="8.17" height="128.79" fill="#5959a6"/><rect x="387.40" y="1612.77" width="8.17" height="128.79" fill="#999966"/><rect x="394.56" y="1612.77" width="8.17" height="128.79" fill="#a6a659"/><rect x="401.73" y="1612.77" width="8.17" height="128.79" fill="#6e6e91"/><rect x="408.90" y="1612.77" width="8.17" height="128.79" fill="#d9d926"/><rect x="416.07" y="1612.77" width="8.17" height="128.79" fill="#999966"/><rect x="423.24" y="1612.77" width="8.17" height="128.79" fill="#cccc33"/><rect x="430.41" y="1612.77" width="8.17" height="128.79" fill="#808080"/><rect x="437.58" y="1612.77" width="8.17" height="128.79" fill="#999966"/><rect x="444.75" y="1612.77" width="8.17" height="128.79" fill="#808080"/><rect x="451.92" y="1612.77" width="8.17" height="128.79" fill="#bfbf40"/><rect x="459.09" y="1612.77" width="8.17" height="128.79" fill="#999966"/><rect x="466.26" y="1612.77" width="8.17" height="128.79" fill="#94946b"/><rect x="473.43" y="1612.77" width="8.17" height="128.79" fill="#666699"/><rect x="480.60" y="1612.77" width="8.17" height="128.79" fill="#999966"/><rect x="487.77" y="1612.77" width="8.17" height="128.79" fill="#73738c"/><rect x="494.93" y="1612.77" width="8.17" height="128.79" fill="#999966"/><rect x="502.10" y="1612.77" width="8.17" height="128.79" fill="#adad52"/><rect x="509.27" y="1612.77" width="8.17" height="128.79" fill="#4747b8"/><rect x="516.44" y="1612.77" width="8.17" height="128.79" fill="#808080"/><rect x="523.61" y="1612.77" width="8.17" height="128.79" fill="#adad52"/><rect x="530.78" y="1612.77" width="8.17" height="128.79" fill="#73738c"/><rect x="537.95" y="1612.77" width="8.17" height="128.79" fill="#73738c"/><rect x="545.12" y="1612.77" width="8.17" height="128.79" fill="#999966"/><rect x="552.29" y="1612.77" width="8.17" height="128.79" fill="#bfbf40"/><rect x="559.46" y="1612.77" width="8.17" height="128.79" fill="#85857a"/><rect x="566.63" y="1612.77" width="8.17" height="128.79" fill="#85857a"/><rect x="573.80" y="1612.77" width="8.17" height="128.79" fill="#8c8c73"/><rect x="580.97" y="1612.77" width="8.17" height="128.79" fill="#6e6e91"/><rect x="588.14" y="1612.77" width="8.17" height="128.79" fill="#a6a659"/><rect x="595.30" y="1612.77" width="8.17" height="128.79" fill="#808080"/><rect x="602.47" y="1612.77" width="8.17" height="128.79" fill="#2e2ed1"/><rect x="609.64" y="1612.77" width="8.17" height="128.79" fill="#6e6e91"/><rect x="616.81" y="1612.77" width="8.17" height="128.79" fill="#999966"/><rect x="623.98" y="1612.77" width="8.17" height="128.79" fill="#878778"/><rect x="631.15" y="1612.77" width="8.17" height="128.79" fill="#e6e619"/><rect x="638.32" y="1612.77" width="8.17" height="128.79" fill="#4040bf"/><rect x="645.49" y="1612.77" width="8.17" height="128.79" fill="#91916e"/><rect x="652.66" y="1612.77" width="8.17" height="128.79" fill="#91916e"/><rect x="659.83" y="1612.77" width="8.17" height="128.79" fill="#91916e"/><rect x="667.00" y="1612.77" width="8.17" height="128.79" fill="#73738c"/><rect x="674.17" y="1612.77" width="8.17" height="128.79" fill="#94946b"/><rect x="681.34" y="1612.77" width="8.17" height="128.79" fill="#73738c"/><rect x="688.51" y="1612.77" width="8.17" height="128.79" fill="#6e6e91"/><rect x="695.68" y="1612.77" width="8.17" height="128.79" fill="#6e6e91"/><rect x="702.84" y="1612.77" width="8.17" height="128.79" fill="#61619e"/><rect x="710.01" y="1612.77" width="8.17" height="128.79" fill="#61619e"/><rect x="717.18" y="1612.77" width="8.17" height="128.79" fill="#adad52"/><rect x="724.35" y="1612.77" width="8.17" height="128.79" fill="#808080"/><rect x="731.52" y="1612.77" width="8.17" height="128.79" fill="#5959a6"/><rect x="738.69" y="1612.77" width="8.17" height="128.79" fill="#5959a6"/><rect x="745.86" y="1612.77" width="8.17" height="128.79" fill="#0d0df2"/><rect x="753.03" y="1612.77" width="8.17" height="128.79" fill="#7a7a85"/><rect x="760.20" y="1612.77" width="8.17" height="128.79" fill="#73738c"/><rect x="767.37" y="1612.77" width="8.17" height="128.79" fill="#808080"/><rect x="774.54" y="1612.77" width="8.17" height="128.79" fill="#808080"/><rect x="781.71" y="1612.77" width="8.17" height="128.79" fill="#0d0df2"/><rect x="788.88" y="1612.77" width="8.17" height="128.79" fill="#61619e"/><rect x="796.05" y="1612.77" width="8.17" height="128.79" fill="#61619e"/><rect x="803.21" y="1612.77" width="8.17" height="128.79" fill="#3333cc"/><rect x="810.38" y="1612.77" width="8.17" height="128.79" fill="#808080"/><rect x="817.55" y="1612.77" width="8.17" height="128.79" fill="#4747b8"/><rect x="824.72" y="1612.77" width="8.17" height="128.79" fill="#1a1ae6"/><rect x="831.89" y="1612.77" width="8.17" height="128.79" fill="#5959a6"/><rect x="839.06" y="1612.77" width="8.17" height="128.79" fill="#2121de"/><rect x="846.23" y="1612.77" width="7.17" height="128.79" fill="#61619e"/><rect x="129.30" y="1740.56" width="8.17" height="128.79" fill="#d9d926"/><rect x="136.47" y="1740.56" width="8.17" height="128.79" fill="#cccc33"/><rect x="143.64" y="1740.56" width="8.17" height="128.79" fill="#7a7a85"/><rect x="150.81" y="1740.56" width="8.17" height="128.79" fill="#e6e619"/><rect x="157.98" y="1740.56" width="8.17" height="128.79" fill="#d9d926"/><rect x="165.15" y="1740.56" width="8.17" height="128.79" fill="#999966"/><rect x="172.32" y="1740.56" width="8.17" height="128.79" fill="#61619e"/><rect x="179.49" y="1740.56" width="8.17" height="128.79" fill="#cccc33"/><rect x="186.65" y="1740.56" width="8.17" height="128.79" fill="#cccc33"/><rect x="193.82" y="1740.56" width="8.17" height="128.79" fill="#cccc33"/><rect x="200.99" y="1740.56" width="8.17" height="128.79" fill="#c7c738"/><rect x="208.16" y="1740.56" width="8.17" height="128.79" fill="#94946b"/><rect x="215.33" y="1740.56" width="8.17" height="128.79" fill="#baba45"/><rect x="222.50" y="1740.56" width="8.17" height="128.79" fill="#adad52"/><rect x="229.67" y="1740.56" width="8.17" height="128.79" fill="#73738c"/><rect x="236.84" y="1740.56" width="8.17" height="128.79" fill="#73738c"/><rect x="244.01" y="1740.56" width="8.17" height="128.79" fill="#73738c"/><rect x="251.18" y="1740.56" width="8.17" height="128.79" fill="#f2f20d"/><rect x="258.35" y="1740.56" width="8.17" height="128.79" fill="#999966"/><rect x="265.52" y="1740.56" width="8.17" height="128.79" fill="#4c4cb2"/><rect x="272.69" y="1740.56" width="8.17" height="128.79" fill="#d9d926"/><rect x="279.86" y="1740.56" width="8.17" height="128.79" fill="#999966"/><rect x="287.02" y="1740.56" width="8.17" height="128.79" fill="#8c8c73"/><rect x="294.19" y="1740.56" width="8.17" height="128.79" fill="#8c8c73"/><rect x="301.36" y="1740.56" width="8.17" height="128.79" fill="#3b3bc4"/><rect x="308.53" y="1740.56" width="8.17" height="128.79" fill="#a1a15e"/><rect x="315.70" y="1740.56" width="8.17" height="128.79" fill="#a1a15e"/><rect x="322.87" y="1740.56" width="8.17" height="128.79" fill="#8c8c73"/><rect x="330.04" y="1740.56" width="8.17" height="128.79" fill="#bfbf40"/><rect x="337.21" y="1740.56" width="8.17" height="128.79" fill="#a6a659"/><rect x="344.38" y="1740.56" width="8.17" height="128.79" fill="#808080"/><rect x="351.55" y="1740.56" width="8.17" height="128.79" fill="#a1a15e"/><rect x="358.72" y="1740.56" width="8.17" height="128.79" fill="#b2b24d"/><rect x="365.89" y="1740.56" width="8.17" height="128.79" fill="#666699"/><rect x="373.06" y="1740.56" width="8.17" height="128.79" fill="#a1a15e"/><rect x="380.23" y="1740.56" width="8.17" height="128.79" fill="#b2b24d"/><rect x="387.40" y="1740.56" width="8.17" height="128.79" fill="#808080"/><rect x="394.56" y="1740.56" width="8.17" height="128.79" fill="#666699"/><rect x="401.73" y="1740.56" width="8.17" height="128.79" fill="#cccc33"/><rect x="408.90" y="1740.56" width="8.17" height="128.79" fill="#6e6e91"/><rect x="416.07" y="1740.56" width="8.17" height="128.79" fill="#808080"/><rect x="423.24" y="1740.56" width="8.17" height="128.79" fill="#4c4cb2"/><rect x="430.41" y="1740.56" width="8.17" height="128.79" fill="#8c8c73"/><rect x="437.58" y="1740.56" width="8.17" height="128.79" fill="#6e6e91"/><rect x="444.75" y="1740.56" width="8.17" height="128.79" fill="#94946b"/><rect x="451.92" y="1740.56" width="8.17" height="128.79" fill="#61619e"/><rect x="459.09" y="1740.56" width="8.17" height="128.79" fill="#666699"/><rect x="466.26" y="1740.56" width="8.17" height="128.79" fill="#94946b"/><rect x="473.43" y="1740.56" width="8.17" height="128.79" fill="#d4d42b"/><rect x="480.60" y="1740.56" width="8.17" height="128.79" fill="#808080"/><rect x="487.77" y="1740.56" width="8.17" height="128.79" fill="#7a7a85"/><rect x="494.93" y="1740.56" width="8.17" height="128.79" fill="#808080"/><rect x="502.10" y="1740.56" width="8.17" height="128.79" fill="#73738c"/><rect x="509.27" y="1740.56" width="8.17" height="128.79" fill="#baba45"/><rect x="516.44" y="1740.56" width="8.17" height="128.79" fill="#baba45"/><rect x="523.61" y="1740.56" width="8.17" height="128.79" fill="#a6a659"/><rect x="530.78" y="1740.56" width="8.17" height="128.79" fill="#85857a"/><rect x="537.95" y="1740.56" width="8.17" height="128.79" fill="#85857a"/><rect x="545.12" y="1740.56" width="8.17" height="128.79" fill="#5454ab"/><rect x="552.29" y="1740.56" width="8.17" height="128.79" fill="#999966"/><rect x="559.46" y="1740.56" width="8.17" height="128.79" fill="#8c8c73"/><rect x="566.63" y="1740.56" width="8.17" height="128.79" fill="#8c8c73"/><rect x="573.80" y="1740.56" width="8.17" height="128.79" fill="#94946b"/><rect x="580.97" y="1740.56" width="8.17" height="128.79" fill="#6e6e91"/><rect x="588.14" y="1740.56" width="8.17" height="128.79" fill="#6e6e91"/><rect x="595.30" y="1740.56" width="8.17" height="128.79" fill="#999966"/><rect x="602.47" y="1740.56" width="8.17" height="128.79" fill="#808080"/><rect x="609.64" y="1740.56" width="8.17" height="128.79" fill="#bfbf40"/><rect x="616.81" y="1740.56" width="8.17" height="128.79" fill="#5454ab"/><rect x="623.98" y="1740.56" width="8.17" height="128.79" fill="#6e6e91"/><rect x="631.15" y="1740.56" width="8.17" height="128.79" fill="#61619e"/><rect x="638.32" y="1740.56" width="8.17" height="128.79" fill="#b2b24d"/><rect x="645.49" y="1740.56" width="8.17" height="128.79" fill="#61619e"/><rect x="652.66" y="1740.56" width="8.17" height="128.79" fill="#61619e"/><rect x="659.83" y="1740.56" width="8.17" height="128.79" fill="#6e6e91"/><rect x="667.00" y="1740.56" width="8.17" height="128.79" fill="#9e9e61"/><rect x="674.17" y="1740.56" width="8.17" height="128.79" fill="#61619e"/><rect x="681.34" y="1740.56" width="8.17" height="128.79" fill="#a6a659"/><rect x="688.51" y="1740.56" width="8.17" height="128.79" fill="#5252ad"/><rect x="695.68" y="1740.56" width="8.17" height="128.79" fill="#4747b8"/><rect x="702.84" y="1740.56" width="8.17" height="128.79" fill="#73738c"/><rect x="710.01" y="1740.56" width="8.17" height="128.79" fill="#61619e"/><rect x="717.18" y="1740.56" width="8.17" height="128.79" fill="#61619e"/><rect x="724.35" y="1740.56" width="8.17" height="128.79" fill="#808080"/><rect x="731.52" y="1740.56" width="8.17" height="128.79" fill="#61619e"/><rect x="738.69" y="1740.56" width="8.17" height="128.79" fill="#5959a6"/><rect x="745.86" y="1740.56" width="8.17" height="128.79" fill="#666699"/><rect x="753.03" y="1740.56" width="8.17" height="128.79" fill="#61619e"/><rect x="760.20" y="1740.56" width="8.17" height="128.79" fill="#4c4cb2"/><rect x="767.37" y="1740.56" width="8.17" height="128.79" fill="#4c4cb2"/><rect x="774.54" y="1740.56" width="8.17" height="128.79" fill="#5959a6"/><rect x="781.71" y="1740.56" width="8.17" height="128.79" fill="#7a7a85"/><rect x="788.88" y="1740.56" width="8.17" height="128.79" fill="#6e6e91"/><rect x="796.05" y="1740.56" width="8.17" height="128.79" fill="#3b3bc4"/><rect x="803.21" y="1740.56" width="8.17" height="128.79" fill="#4747b8"/><rect x="810.38" y="1740.56" width="8.17" height="128.79" fill="#4c4cb2"/><rect x="817.55" y="1740.56" width="8.17" height="128.79" fill="#6e6e91"/><rect x="824.72" y="1740.56" width="8.17" height="128.79" fill="#3b3bc4"/><rect x="831.89" y="1740.56" width="8.17" height="128.79" fill="#4040bf"/><rect x="839.06" y="1740.56" width="8.17" height="128.79" fill="#3b3bc4"/><rect x="846.23" y="1740.56" width="7.17" height="128.79" fill="#0808f7"/><rect x="129.30" y="1868.34" width="8.17" height="128.79" fill="#a6a659"/><rect x="136.47" y="1868.34" width="8.17" height="128.79" fill="#ffff00"/><rect x="143.64" y="1868.34" width="8.17" height="128.79" fill="#b2b24d"/><rect x="150.81" y="1868.34" width="8.17" height="128.79" fill="#73738c"/><rect x="157.98" y="1868.34" width="8.17" height="128.79" fill="#9e9e61"/><rect x="165.15" y="1868.34" width="8.17" height="128.79" fill="#73738c"/><rect x="172.32" y="1868.34" width="8.17" height="128.79" fill="#ffff00"/><rect x="179.49" y="1868.34" width="8.17" height="128.79" fill="#bfbf40"/><rect x="186.65" y="1868.34" width="8.17" height="128.79" fill="#73738c"/><rect x="193.82" y="1868.34" width="8.17" height="128.79" fill="#ffff00"/><rect x="200.99" y="1868.34" width="8.17" height="128.79" fill="#bfbf40"/><rect x="208.16" y="1868.34" width="8.17" height="128.79" fill="#61619e"/><rect x="215.33" y="1868.34" width="8.17" height="128.79" fill="#999966"/><rect x="222.50" y="1868.34" width="8.17" height="128.79" fill="#4c4cb2"/><rect x="229.67" y="1868.34" width="8.17" height="128.79" fill="#4c4cb2"/><rect x="236.84" y="1868.34" width="8.17" height="128.79" fill="#999966"/><rect x="244.01" y="1868.34" width="8.17" height="128.79" fill="#baba45"/><rect x="251.18" y="1868.34" width="8.17" height="128.79" fill="#61619e"/><rect x="258.35" y="1868.34" width="8.17" height="128.79" fill="#4c4cb2"/><rect x="265.52" y="1868.34" width="8.17" height="128.79" fill="#e6e619"/><rect x="272.69" y="1868.34" width="8.17" height="128.79" fill="#666699"/><rect x="279.86" y="1868.34" width="8.17" height="128.79" fill="#b2b24d"/><rect x="287.02" y="1868.34" width="8.17" height="128.79" fill="#8c8c73"/><rect x="294.19" y="1868.34" width="8.17" height="128.79" fill="#bfbf40"/><rect x="301.36" y="1868.34" width="8.17" height="128.79" fill="#4c4cb2"/><rect x="308.53" y="1868.34" width="8.17" height="128.79" fill="#b2b24d"/><rect x="315.70" y="1868.34" width="8.17" height="128.79" fill="#adad52"/><rect x="322.87" y="1868.34" width="8.17" height="128.79" fill="#6e6e91"/><rect x="330.04" y="1868.34" width="8.17" height="128.79" fill="#6e6e91"/><rect x="337.21" y="1868.34" width="8.17" height="128.79" fill="#666699"/><rect x="344.38" y="1868.34" width="8.17" height="128.79" fill="#6e6e91"/><rect x="351.55" y="1868.34" width="8.17" height="128.79" fill="#6e6e91"/><rect x="358.72" y="1868.34" width="8.17" height="128.79" fill="#666699"/><rect x="365.89" y="1868.34" width="8.17" height="128.79" fill="#adad52"/><rect x="373.06" y="1868.34" width="8.17" height="128.79" fill="#73738c"/><rect x="380.23" y="1868.34" width="8.17" height="128.79" fill="#878778"/><rect x="387.40" y="1868.34" width="8.17" height="128.79" fill="#5454ab"/><rect x="394.56" y="1868.34" width="8.17" height="128.79" fill="#adad52"/><rect x="401.73" y="1868.34" width="8.17" height="128.79" fill="#666699"/><rect x="408.90" y="1868.34" width="8.17" height="128.79" fill="#666699"/><rect x="416.07" y="1868.34" width="8.17" height="128.79" fill="#666699"/><rect x="423.24" y="1868.34" width="8.17" height="128.79" fill="#85857a"/><rect x="430.41" y="1868.34" width="8.17" height="128.79" fill="#61619e"/><rect x="437.58" y="1868.34" width="8.17" height="128.79" fill="#6e6e91"/><rect x="444.75" y="1868.34" width="8.17" height="128.79" fill="#666699"/><rect x="451.92" y="1868.34" width="8.17" height="128.79" fill="#666699"/><rect x="459.09" y="1868.34" width="8.17" height="128.79" fill="#adad52"/><rect x="466.26" y="1868.34" width="8.17" height="128.79" fill="#cccc33"/><rect x="473.43" y="1868.34" width="8.17" height="128.79" fill="#808080"/><rect x="480.60" y="1868.34" width="8.17" height="128.79" fill="#adad52"/><rect x="487.77" y="1868.34" width="8.17" height="128.79" fill="#666699"/><rect x="494.93" y="1868.34" width="8.17" height="128.79" fill="#63639c"/><rect x="502.10" y="1868.34" width="8.17" height="128.79" fill="#5959a6"/><rect x="509.27" y="1868.34" width="8.17" height="128.79" fill="#63639c"/><rect x="516.44" y="1868.34" width="8.17" height="128.79" fill="#63639c"/><rect x="523.61" y="1868.34" width="8.17" height="128.79" fill="#5e5ea1"/><rect x="530.78" y="1868.34" width="8.17" height="128.79" fill="#5e5ea1"/><rect x="537.95" y="1868.34" width="8.17" height="128.79" fill="#5e5ea1"/><rect x="545.12" y="1868.34" width="8.17" height="128.79" fill="#5e5ea1"/><rect x="552.29" y="1868.34" width="8.17" height="128.79" fill="#6b6b94"/><rect x="559.46" y="1868.34" width="8.17" height="128.79" fill="#666699"/><rect x="566.63" y="1868.34" width="8.17" height="128.79" fill="#666699"/><rect x="573.80" y="1868.34" width="8.17" height="128.79" fill="#666699"/><rect x="580.97" y="1868.34" width="8.17" height="128.79" fill="#666699"/><rect x="588.14" y="1868.34" width="8.17" height="128.79" fill="#63639c"/><rect x="595.30" y="1868.34" width="8.17" height="128.79" fill="#5e5ea1"/><rect x="602.47" y="1868.34" width="8.17" height="128.79" fill="#7a7a85"/><rect x="609.64" y="1868.34" width="8.17" height="128.79" fill="#6e6e91"/><rect x="616.81" y="1868.34" width="8.17" height="128.79" fill="#61619e"/><rect x="623.98" y="1868.34" width="8.17" height="128.79" fill="#adad52"/><rect x="631.15" y="1868.34" width="8.17" height="128.79" fill="#6e6e91"/><rect x="638.32" y="1868.34" width="8.17" height="128.79" fill="#73738c"/><rect x="645.49" y="1868.34" width="8.17" height="128.79" fill="#666699"/><rect x="652.66" y="1868.34" width="8.17" height="128.79" fill="#666699"/><rect x="659.83" y="1868.34" width="8.17" height="128.79" fill="#808080"/><rect x="667.00" y="1868.34" width="8.17" height="128.79" fill="#6e6e91"/><rect x="674.17" y="1868.34" width="8.17" height="128.79" fill="#666699"/><rect x="681.34" y="1868.34" width="8.17" height="128.79" fill="#666699"/><rect x="688.51" y="1868.34" width="8.17" height="128.79" fill="#666699"/><rect x="695.68" y="1868.34" width="8.17" height="128.79" fill="#7a7a85"/><rect x="702.84" y="1868.34" width="8.17" height="128.79" fill="#61619e"/><rect x="710.01" y="1868.34" width="8.17" height="128.79" fill="#a6a659"/><rect x="717.18" y="1868.34" width="8.17" height="128.79" fill="#6b6b94"/><rect x="724.35" y="1868.34" width="8.17" height="128.79" fill="#666699"/><rect x="731.52" y="1868.34" width="8.17" height="128.79" fill="#666699"/><rect x="738.69" y="1868.34" width="8.17" height="128.79" fill="#61619e"/><rect x="745.86" y="1868.34" width="8.17" height="128.79" fill="#61619e"/><rect x="753.03" y="1868.34" width="8.17" height="128.79" fill="#666699"/><rect x="760.20" y="1868.34" width="8.17" height="128.79" fill="#85857a"/><rect x="767.37" y="1868.34" width="8.17" height="128.79" fill="#6e6e91"/><rect x="774.54" y="1868.34" width="8.17" height="128.79" fill="#6e6e91"/><rect x="781.71" y="1868.34" width="8.17" height="128.79" fill="#adad52"/><rect x="788.88" y="1868.34" width="8.17" height="128.79" fill="#adad52"/><rect x="796.05" y="1868.34" width="8.17" height="128.79" fill="#5959a6"/><rect x="803.21" y="1868.34" width="8.17" height="128.79" fill="#999966"/><rect x="810.38" y="1868.34" width="8.17" height="128.79" fill="#61619e"/><rect x="817.55" y="1868.34" width="8.17" height="128.79" fill="#878778"/><rect x="824.72" y="1868.34" width="8.17" height="128.79" fill="#999966"/><rect x="831.89" y="1868.34" width="8.17" height="128.79" fill="#666699"/><rect x="839.06" y="1868.34" width="8.17" height="128.79" fill="#666699"/><rect x="846.23" y="1868.34" width="7.17" height="128.79" fill="#61619e"/><rect x="129.30" y="1996.13" width="8.17" height="128.79" fill="#e6e619"/><rect x="136.47" y="1996.13" width="8.17" height="128.79" fill="#e6e619"/><rect x="143.64" y="1996.13" width="8.17" height="128.79" fill="#a1a15e"/><rect x="150.81" y="1996.13" width="8.17" height="128.79" fill="#b2b24d"/><rect x="157.98" y="1996.13" width="8.17" height="128.79" fill="#ffff00"/><rect x="165.15" y="1996.13" width="8.17" height="128.79" fill="#b2b24d"/><rect x="172.32" y="1996.13" width="8.17" height="128.79" fill="#b2b24d"/><rect x="179.49" y="1996.13" width="8.17" height="128.79" fill="#a1a15e"/><rect x="186.65" y="1996.13" width="8.17" height="128.79" fill="#adad52"/><rect x="193.82" y="1996.13" width="8.17" height="128.79" fill="#c7c738"/><rect x="200.99" y="1996.13" width="8.17" height="128.79" fill="#73738c"/><rect x="208.16" y="1996.13" width="8.17" height="128.79" fill="#666699"/><rect x="215.33" y="1996.13" width="8.17" height="128.79" fill="#808080"/><rect x="222.50" y="1996.13" width="8.17" height="128.79" fill="#cccc33"/><rect x="229.67" y="1996.13" width="8.17" height="128.79" fill="#808080"/><rect x="236.84" y="1996.13" width="8.17" height="128.79" fill="#999966"/><rect x="244.01" y="1996.13" width="8.17" height="128.79" fill="#adad52"/><rect x="251.18" y="1996.13" width="8.17" height="128.79" fill="#666699"/><rect x="258.35" y="1996.13" width="8.17" height="128.79" fill="#b2b24d"/><rect x="265.52" y="1996.13" width="8.17" height="128.79" fill="#b2b24d"/><rect x="272.69" y="1996.13" width="8.17" height="128.79" fill="#999966"/><rect x="279.86" y="1996.13" width="8.17" height="128.79" fill="#4040bf"/><rect x="287.02" y="1996.13" width="8.17" height="128.79" fill="#94946b"/><rect x="294.19" y="1996.13" width="8.17" height="128.79" fill="#a1a15e"/><rect x="301.36" y="1996.13" width="8.17" height="128.79" fill="#878778"/><rect x="308.53" y="1996.13" width="8.17" height="128.79" fill="#4c4cb2"/><rect x="315.70" y="1996.13" width="8.17" height="128.79" fill="#a1a15e"/><rect x="322.87" y="1996.13" width="8.17" height="128.79" fill="#999966"/><rect x="330.04" y="1996.13" width="8.17" height="128.79" fill="#b2b24d"/><rect x="337.21" y="1996.13" width="8.17" height="128.79" fill="#999966"/><rect x="344.38" y="1996.13" width="8.17" height="128.79" fill="#808080"/><rect x="351.55" y="1996.13" width="8.17" height="128.79" fill="#b2b24d"/><rect x="358.72" y="1996.13" width="8.17" height="128.79" fill="#85857a"/><rect x="365.89" y="1996.13" width="8.17" height="128.79" fill="#a1a15e"/><rect x="373.06" y="1996.13" width="8.17" height="128.79" fill="#6e6e91"/><rect x="380.23" y="1996.13" width="8.17" height="128.79" fill="#878778"/><rect x="387.40" y="1996.13" width="8.17" height="128.79" fill="#999966"/><rect x="394.56" y="1996.13" width="8.17" height="128.79" fill="#4c4cb2"/><rect x="401.73" y="1996.13" width="8.17" height="128.79" fill="#e0e01f"/><rect x="408.90" y="1996.13" width="8.17" height="128.79" fill="#999966"/><rect x="416.07" y="1996.13" width="8.17" height="128.79" fill="#baba45"/><rect x="423.24" y="1996.13" width="8.17" height="128.79" fill="#baba45"/><rect x="430.41" y="1996.13" width="8.17" height="128.79" fill="#9e9e61"/><rect x="437.58" y="1996.13" width="8.17" height="128.79" fill="#adad52"/><rect x="444.75" y="1996.13" width="8.17" height="128.79" fill="#a6a659"/><rect x="451.92" y="1996.13" width="8.17" height="128.79" fill="#73738c"/><rect x="459.09" y="1996.13" width="8.17" height="128.79" fill="#adad52"/><rect x="466.26" y="1996.13" width="8.17" height="128.79" fill="#4747b8"/><rect x="473.43" y="1996.13" width="8.17" height="128.79" fill="#94946b"/><rect x="480.60" y="1996.13" width="8.17" height="128.79" fill="#5959a6"/><rect x="487.77" y="1996.13" width="8.17" height="128.79" fill="#a6a659"/><rect x="494.93" y="1996.13" width="8.17" height="128.79" fill="#999966"/><rect x="502.10" y="1996.13" width="8.17" height="128.79" fill="#8c8c73"/><rect x="509.27" y="1996.13" width="8.17" height="128.79" fill="#cccc33"/><rect x="516.44" y="1996.13" width="8.17" height="128.79" fill="#c7c738"/><rect x="523.61" y="1996.13" width="8.17" height="128.79" fill="#4c4cb2"/><rect x="530.78" y="1996.13" width="8.17" height="128.79" fill="#9e9e61"/><rect x="537.95" y="1996.13" width="8.17" height="128.79" fill="#999966"/><rect x="545.12" y="1996.13" width="8.17" height="128.79" fill="#9e9e61"/><rect x="552.29" y="1996.13" width="8.17" height="128.79" fill="#4c4cb2"/><rect x="559.46" y="1996.13" width="8.17" height="128.79" fill="#4c4cb2"/><rect x="566.63" y="1996.13" width="8.17" height="128.79" fill="#73738c"/><rect x="573.80" y="1996.13" width="8.17" height="128.79" fill="#808080"/><rect x="580.97" y="1996.13" width="8.17" height="128.79" fill="#4747b8"/><rect x="588.14" y="1996.13" width="8.17" height="128.79" fill="#73738c"/><rect x="595.30" y="1996.13" width="8.17" height="128.79" fill="#61619e"/><rect x="602.47" y="1996.13" width="8.17" height="128.79" fill="#61619e"/><rect x="609.64" y="1996.13" width="8.17" height="128.79" fill="#808080"/><rect x="616.81" y="1996.13" width="8.17" height="128.79" fill="#6e6e91"/><rect x="623.98" y="1996.13" width="8.17" height="128.79" fill="#6e6e91"/><rect x="631.15" y="1996.13" width="8.17" height="128.79" fill="#1414eb"/><rect x="638.32" y="1996.13" width="8.17" height="128.79" fill="#808080"/><rect x="645.49" y="1996.13" width="8.17" height="128.79" fill="#9e9e61"/><rect x="652.66" y="1996.13" width="8.17" height="128.79" fill="#9e9e61"/><rect x="659.83" y="1996.13" width="8.17" height="128.79" fill="#6e6e91"/><rect x="667.00" y="1996.13" width="8.17" height="128.79" fill="#999966"/><rect x="674.17" y="1996.13" width="8.17" height="128.79" fill="#73738c"/><rect x="681.34" y="1996.13" width="8.17" height="128.79" fill="#999966"/><rect x="688.51" y="1996.13" width="8.17" height="128.79" fill="#adad52"/><rect x="695.68" y="1996.13" width="8.17" height="128.79" fill="#94946b"/><rect x="702.84" y="1996.13" width="8.17" height="128.79" fill="#cccc33"/><rect x="710.01" y="1996.13" width="8.17" height="128.79" fill="#3838c7"/><rect x="717.18" y="1996.13" width="8.17" height="128.79" fill="#5959a6"/><rect x="724.35" y="1996.13" width="8.17" height="128.79" fill="#5959a6"/><rect x="731.52" y="1996.13" width="8.17" height="128.79" fill="#73738c"/><rect x="738.69" y="1996.13" width="8.17" height="128.79" fill="#4c4cb2"/><rect x="745.86" y="1996.13" width="8.17" height="128.79" fill="#a6a659"/><rect x="753.03" y="1996.13" width="8.17" height="128.79" fill="#3838c7"/><rect x="760.20" y="1996.13" width="8.17" height="128.79" fill="#4040bf"/><rect x="767.37" y="1996.13" width="8.17" height="128.79" fill="#6b6b94"/><rect x="774.54" y="1996.13" width="8.17" height="128.79" fill="#3333cc"/><rect x="781.71" y="1996.13" width="8.17" height="128.79" fill="#61619e"/><rect x="788.88" y="1996.13" width="8.17" height="128.79" fill="#4040bf"/><rect x="796.05" y="1996.13" width="8.17" height="128.79" fill="#7a7a85"/><rect x="803.21" y="1996.13" width="8.17" height="128.79" fill="#4040bf"/><rect x="810.38" y="1996.13" width="8.17" height="128.79" fill="#808080"/><rect x="817.55" y="1996.13" width="8.17" height="128.79" fill="#5959a6"/><rect x="824.72" y="1996.13" width="8.17" height="128.79" fill="#3b3bc4"/><rect x="831.89" y="1996.13" width="8.17" height="128.79" fill="#3b3bc4"/><rect x="839.06" y="1996.13" width="8.17" height="128.79" fill="#5959a6"/><rect x="846.23" y="1996.13" width="7.17" height="128.79" fill="#2626d9"/><rect x="129.30" y="2123.91" width="8.17" height="127.79" fill="#baba45"/><rect x="136.47" y="2123.91" width="8.17" height="127.79" fill="#a6a659"/><rect x="143.64" y="2123.91" width="8.17" height="127.79" fill="#a6a659"/><rect x="150.81" y="2123.91" width="8.17" height="127.79" fill="#a6a659"/><rect x="157.98" y="2123.91" width="8.17" height="127.79" fill="#b2b24d"/><rect x="165.15" y="2123.91" width="8.17" height="127.79" fill="#808080"/><rect x="172.32" y="2123.91" width="8.17" height="127.79" fill="#5252ad"/><rect x="179.49" y="2123.91" width="8.17" height="127.79" fill="#ffff00"/><rect x="186.65" y="2123.91" width="8.17" height="127.79" fill="#a6a659"/><rect x="193.82" y="2123.91" width="8.17" height="127.79" fill="#9e9e61"/><rect x="200.99" y="2123.91" width="8.17" height="127.79" fill="#adad52"/><rect x="208.16" y="2123.91" width="8.17" height="127.79" fill="#4747b8"/><rect x="215.33" y="2123.91" width="8.17" height="127.79" fill="#adad52"/><rect x="222.50" y="2123.91" width="8.17" height="127.79" fill="#d9d926"/><rect x="229.67" y="2123.91" width="8.17" height="127.79" fill="#4040bf"/><rect x="236.84" y="2123.91" width="8.17" height="127.79" fill="#c7c738"/><rect x="244.01" y="2123.91" width="8.17" height="127.79" fill="#adad52"/><rect x="251.18" y="2123.91" width="8.17" height="127.79" fill="#ffff00"/><rect x="258.35" y="2123.91" width="8.17" height="127.79" fill="#5454ab"/><rect x="265.52" y="2123.91" width="8.17" height="127.79" fill="#5454ab"/><rect x="272.69" y="2123.91" width="8.17" height="127.79" fill="#999966"/><rect x="279.86" y="2123.91" width="8.17" height="127.79" fill="#6e6e91"/><rect x="287.02" y="2123.91" width="8.17" height="127.79" fill="#6e6e91"/><rect x="294.19" y="2123.91" width="8.17" height="127.79" fill="#6e6e91"/><rect x="301.36" y="2123.91" width="8.17" height="127.79" fill="#7a7a85"/><rect x="308.53" y="2123.91" width="8.17" height="127.79" fill="#94946b"/><rect x="315.70" y="2123.91" width="8.17" height="127.79" fill="#a6a659"/><rect x="322.87" y="2123.91" width="8.17" height="127.79" fill="#a6a659"/><rect x="330.04" y="2123.91" width="8.17" height="127.79" fill="#adad52"/><rect x="337.21" y="2123.91" width="8.17" height="127.79" fill="#808080"/><rect x="344.38" y="2123.91" width="8.17" height="127.79" fill="#b2b24d"/><rect x="351.55" y="2123.91" width="8.17" height="127.79" fill="#a1a15e"/><rect x="358.72" y="2123.91" width="8.17" height="127.79" fill="#61619e"/><rect x="365.89" y="2123.91" width="8.17" height="127.79" fill="#adad52"/><rect x="373.06" y="2123.91" width="8.17" height="127.79" fill="#999966"/><rect x="380.23" y="2123.91" width="8.17" height="127.79" fill="#d9d926"/><rect x="387.40" y="2123.91" width="8.17" height="127.79" fill="#6e6e91"/><rect x="394.56" y="2123.91" width="8.17" height="127.79" fill="#666699"/><rect x="401.73" y="2123.91" width="8.17" height="127.79" fill="#666699"/><rect x="408.90" y="2123.91" width="8.17" height="127.79" fill="#4c4cb2"/><rect x="416.07" y="2123.91" width="8.17" height="127.79" fill="#73738c"/><rect x="423.24" y="2123.91" width="8.17" height="127.79" fill="#94946b"/><rect x="430.41" y="2123.91" width="8.17" height="127.79" fill="#808080"/><rect x="437.58" y="2123.91" width="8.17" height="127.79" fill="#baba45"/><rect x="444.75" y="2123.91" width="8.17" height="127.79" fill="#999966"/><rect x="451.92" y="2123.91" width="8.17" height="127.79" fill="#666699"/><rect x="459.09" y="2123.91" width="8.17" height="127.79" fill="#94946b"/><rect x="466.26" y="2123.91" width="8.17" height="127.79" fill="#94946b"/><rect x="473.43" y="2123.91" width="8.17" height="127.79" fill="#8c8c73"/><rect x="480.60" y="2123.91" width="8.17" height="127.79" fill="#61619e"/><rect x="487.77" y="2123.91" width="8.17" height="127.79" fill="#a6a659"/><rect x="494.93" y="2123.91" width="8.17" height="127.79" fill="#808080"/><rect x="502.10" y="2123.91" width="8.17" height="127.79" fill="#bfbf40"/><rect x="509.27" y="2123.91" width="8.17" height="127.79" fill="#cccc33"/><rect x="516.44" y="2123.91" width="8.17" height="127.79" fill="#6e6e91"/><rect x="523.61" y="2123.91" width="8.17" height="127.79" fill="#bfbf40"/><rect x="530.78" y="2123.91" width="8.17" height="127.79" fill="#85857a"/><rect x="537.95" y="2123.91" width="8.17" height="127.79" fill="#808080"/><rect x="545.12" y="2123.91" width="8.17" height="127.79" fill="#808080"/><rect x="552.29" y="2123.91" width="8.17" height="127.79" fill="#4040bf"/><rect x="559.46" y="2123.91" width="8.17" height="127.79" fill="#5959a6"/><rect x="566.63" y="2123.91" width="8.17" height="127.79" fill="#808080"/><rect x="573.80" y="2123.91" width="8.17" height="127.79" fill="#808080"/><rect x="580.97" y="2123.91" width="8.17" height="127.79" fill="#666699"/><rect x="588.14" y="2123.91" width="8.17" height="127.79" fill="#666699"/><rect x="595.30" y="2123.91" width="8.17" height="127.79" fill="#70708f"/><rect x="602.47" y="2123.91" width="8.17" height="127.79" fill="#d4d42b"/><rect x="609.64" y="2123.91" width="8.17" height="127.79" fill="#94946b"/><rect x="616.81" y="2123.91" width="8.17" height="127.79" fill="#666699"/><rect x="623.98" y="2123.91" width="8.17" height="127.79" fill="#73738c"/><rect x="631.15" y="2123.91" width="8.17" height="127.79" fill="#2626d9"/><rect x="638.32" y="2123.91" width="8.17" height="127.79" fill="#a8a857"/><rect x="645.49" y="2123.91" width="8.17" height="127.79" fill="#5454ab"/><rect x="652.66" y="2123.91" width="8.17" height="127.79" fill="#878778"/><rect x="659.83" y="2123.91" width="8.17" height="127.79" fill="#878778"/><rect x="667.00" y="2123.91" width="8.17" height="127.79" fill="#5959a6"/><rect x="674.17" y="2123.91" width="8.17" height="127.79" fill="#999966"/><rect x="681.34" y="2123.91" width="8.17" height="127.79" fill="#6b6b94"/><rect x="688.51" y="2123.91" width="8.17" height="127.79" fill="#85857a"/><rect x="695.68" y="2123.91" width="8.17" height="127.79" fill="#a6a659"/><rect x="702.84" y="2123.91" width="8.17" height="127.79" fill="#73738c"/><rect x="710.01" y="2123.91" width="8.17" height="127.79" fill="#666699"/><rect x="717.18" y="2123.91" width="8.17" height="127.79" fill="#666699"/><rect x="724.35" y="2123.91" width="8.17" height="127.79" fill="#4c4cb2"/><rect x="731.52" y="2123.91" width="8.17" height="127.79" fill="#c7c738"/><rect x="738.69" y="2123.91" width="8.17" height="127.79" fill="#6b6b94"/><rect x="745.86" y="2123.91" width="8.17" height="127.79" fill="#a1a15e"/><rect x="753.03" y="2123.91" width="8.17" height="127.79" fill="#73738c"/><rect x="760.20" y="2123.91" width="8.17" height="127.79" fill="#61619e"/><rect x="767.37" y="2123.91" width="8.17" height="127.79" fill="#94946b"/><rect x="774.54" y="2123.91" width="8.17" height="127.79" fill="#3b3bc4"/><rect x="781.71" y="2123.91" width="8.17" height="127.79" fill="#73738c"/><rect x="788.88" y="2123.91" width="8.17" height="127.79" fill="#73738c"/><rect x="796.05" y="2123.91" width="8.17" height="127.79" fill="#6e6e91"/><rect x="803.21" y="2123.91" width="8.17" height="127.79" fill="#5959a6"/><rect x="810.38" y="2123.91" width="8.17" height="127.79" fill="#5959a6"/><rect x="817.55" y="2123.91" width="8.17" height="127.79" fill="#5959a6"/><rect x="824.72" y="2123.91" width="8.17" height="127.79" fill="#2e2ed1"/><rect x="831.89" y="2123.91" width="8.17" height="127.79" fill="#5959a6"/><rect x="839.06" y="2123.91" width="8.17" height="127.79" fill="#999966"/><rect x="846.23" y="2123.91" width="7.17" height="127.79" fill="#0d0df2"/><rect x="129.30" y="1326.50" width="8.17" height="18.40" fill="#0000ff"/><rect x="136.47" y="1326.50" width="8.17" height="18.40" fill="#1e1efa"/><rect x="143.64" y="1326.50" width="8.17" height="18.40" fill="#1e1efa"/><rect x="150.81" y="1326.50" width="8.17" height="18.40" fill="#5050ff"/><rect x="157.98" y="1326.50" width="8.17" height="18.40" fill="#5050ff"/><rect x="165.15" y="1326.50" width="8.17" height="18.40" fill="#5050ff"/><rect x="172.32" y="1326.50" width="8.17" height="18.40" fill="#5050ff"/><rect x="179.49" y="1326.50" width="8.17" height="18.40" fill="#6464ff"/><rect x="186.65" y="1326.50" width="8.17" height="18.40" fill="#6464ff"/><rect x="193.82" y="1326.50" width="8.17" height="18.40" fill="#8c8cff"/><rect x="200.99" y="1326.50" width="8.17" height="18.40" fill="#aaaaff"/><rect x="208.16" y="1326.50" width="8.17" height="18.40" fill="#aaaaff"/><rect x="215.33" y="1326.50" width="8.17" height="18.40" fill="#aaaaff"/><rect x="222.50" y="1326.50" width="8.17" height="18.40" fill="#aaaaff"/><rect x="229.67" y="1326.50" width="8.17" height="18.40" fill="#aaaaff"/><rect x="236.84" y="1326.50" width="8.17" height="18.40" fill="#bebeff"/><rect x="244.01" y="1326.50" width="8.17" height="18.40" fill="#bebeff"/><rect x="251.18" y="1326.50" width="8.17" height="18.40" fill="#bebeff"/><rect x="258.35" y="1326.50" width="8.17" height="18.40" fill="#bebeff"/><rect x="265.52" y="1326.50" width="8.17" height="18.40" fill="#d2d2ff"/><rect x="272.69" y="1326.50" width="8.17" height="18.40" fill="#d2d2ff"/><rect x="279.86" y="1326.50" width="8.17" height="18.40" fill="#d2d2ff"/><rect x="287.02" y="1326.50" width="8.17" height="18.40" fill="#d2d2ff"/><rect x="294.19" y="1326.50" width="8.17" height="18.40" fill="#e1e1ff"/><rect x="301.36" y="1326.50" width="8.17" height="18.40" fill="#e1e1ff"/><rect x="308.53" y="1326.50" width="8.17" height="18.40" fill="#e1e1ff"/><rect x="315.70" y="1326.50" width="8.17" height="18.40" fill="#e1e1ff"/><rect x="322.87" y="1326.50" width="8.17" height="18.40" fill="#f0f0ff"/><rect x="330.04" y="1326.50" width="8.17" height="18.40" fill="#f0f0ff"/><rect x="337.21" y="1326.50" width="8.17" height="18.40" fill="#f0f0ff"/><rect x="344.38" y="1326.50" width="8.17" height="18.40" fill="#f0f0ff"/><rect x="351.55" y="1326.50" width="8.17" height="18.40" fill="#f0f0ff"/><rect x="358.72" y="1326.50" width="8.17" height="18.40" fill="#f0f0ff"/><rect x="365.89" y="1326.50" width="8.17" height="18.40" fill="#f0f0ff"/><rect x="373.06" y="1326.50" width="8.17" height="18.40" fill="#f0f0ff"/><rect x="380.23" y="1326.50" width="8.17" height="18.40" fill="#f0f0ff"/><rect x="387.40" y="1326.50" width="8.17" height="18.40" fill="#ffffff"/><rect x="394.56" y="1326.50" width="8.17" height="18.40" fill="#ffffff"/><rect x="401.73" y="1326.50" width="8.17" height="18.40" fill="#ffffff"/><rect x="408.90" y="1326.50" width="8.17" height="18.40" fill="#ffffff"/><rect x="416.07" y="1326.50" width="8.17" height="18.40" fill="#ffffff"/><rect x="423.24" y="1326.50" width="8.17" height="18.40" fill="#ffffff"/><rect x="430.41" y="1326.50" width="8.17" height="18.40" fill="#ffffff"/><rect x="437.58" y="1326.50" width="8.17" height="18.40" fill="#ffffff"/><rect x="444.75" y="1326.50" width="8.17" height="18.40" fill="#ffffff"/><rect x="451.92" y="1326.50" width="8.17" height="18.40" fill="#ffffff"/><rect x="459.09" y="1326.50" width="8.17" height="18.40" fill="#ffffff"/><rect x="466.26" y="1326.50" width="8.17" height="18.40" fill="#ffe8e8"/><rect x="473.43" y="1326.50" width="8.17" height="18.40" fill="#ffe8e8"/><rect x="480.60" y="1326.50" width="8.17" height="18.40" fill="#ffe8e8"/><rect x="487.77" y="1326.50" width="8.17" height="18.40" fill="#ffe8e8"/><rect x="494.93" y="1326.50" width="8.17" height="18.40" fill="#ffe8e8"/><rect x="502.10" y="1326.50" width="8.17" height="18.40" fill="#ffe8e8"/><rect x="509.27" y="1326.50" width="8.17" height="18.40" fill="#ffe8e8"/><rect x="516.44" y="1326.50" width="8.17" height="18.40" fill="#ffd7d7"/><rect x="523.61" y="1326.50" width="8.17" height="18.40" fill="#ffd7d7"/><rect x="530.78" y="1326.50" width="8.17" height="18.40" fill="#ffd7d7"/><rect x="537.95" y="1326.50" width="8.17" height="18.40" fill="#ffd7d7"/><rect x="545.12" y="1326.50" width="8.17" height="18.40" fill="#ffd7d7"/><rect x="552.29" y="1326.50" width="8.17" height="18.40" fill="#ffd7d7"/><rect x="559.46" y="1326.50" width="8.17" height="18.40" fill="#ffd7d7"/><rect x="566.63" y="1326.50" width="8.17" height="18.40" fill="#ffd7d7"/><rect x="573.80" y="1326.50" width="8.17" height="18.40" fill="#ffd7d7"/><rect x="580.97" y="1326.50" width="8.17" height="18.40" fill="#ffd7d7"/><rect x="588.14" y="1326.50" width="8.17" height="18.40" fill="#ffcdcd"/><rect x="595.30" y="1326.50" width="8.17" height="18.40" fill="#ffcdcd"/><rect x="602.47" y="1326.50" width="8.17" height="18.40" fill="#ffcdcd"/><rect x="609.64" y="1326.50" width="8.17" height="18.40" fill="#ffcdcd"/><rect x="616.81" y="1326.50" width="8.17" height="18.40" fill="#ffcdcd"/><rect x="623.98" y="1326.50" width="8.17" height="18.40" fill="#ffcdcd"/><rect x="631.15" y="1326.50" width="8.17" height="18.40" fill="#ffcdcd"/><rect x="638.32" y="1326.50" width="8.17" height="18.40" fill="#ffcdcd"/><rect x="645.49" y="1326.50" width="8.17" height="18.40" fill="#ffb9b9"/><rect x="652.66" y="1326.50" width="8.17" height="18.40" fill="#ffb9b9"/><rect x="659.83" y="1326.50" width="8.17" height="18.40" fill="#ffb9b9"/><rect x="667.00" y="1326.50" width="8.17" height="18.40" fill="#ffb9b9"/><rect x="674.17" y="1326.50" width="8.17" height="18.40" fill="#ffb9b9"/><rect x="681.34" y="1326.50" width="8.17" height="18.40" fill="#ffb9b9"/><rect x="688.51" y="1326.50" width="8.17" height="18.40" fill="#ffb9b9"/><rect x="695.68" y="1326.50" width="8.17" height="18.40" fill="#ffb9b9"/><rect x="702.84" y="1326.50" width="8.17" height="18.40" fill="#ffaaaa"/><rect x="710.01" y="1326.50" width="8.17" height="18.40" fill="#ffaaaa"/><rect x="717.18" y="1326.50" width="8.17" height="18.40" fill="#ffaaaa"/><rect x="724.35" y="1326.50" width="8.17" height="18.40" fill="#ffaaaa"/><rect x="731.52" y="1326.50" width="8.17" height="18.40" fill="#ffaaaa"/><rect x="738.69" y="1326.50" width="8.17" height="18.40" fill="#ffaaaa"/><rect x="745.86" y="1326.50" width="8.17" height="18.40" fill="#ff9696"/><rect x="753.03" y="1326.50" width="8.17" height="18.40" fill="#ff9696"/><rect x="760.20" y="1326.50" width="8.17" height="18.40" fill="#ff8c8c"/><rect x="767.37" y="1326.50" width="8.17" height="18.40" fill="#ff8c8c"/><rect x="774.54" y="1326.50" width="8.17" height="18.40" fill="#ff8c8c"/><rect x="781.71" y="1326.50" width="8.17" height="18.40" fill="#ff8c8c"/><rect x="788.88" y="1326.50" width="8.17" height="18.40" fill="#ff7d7d"/><rect x="796.05" y="1326.50" width="8.17" height="18.40" fill="#ff7d7d"/><rect x="803.21" y="1326.50" width="8.17" height="18.40" fill="#ff7d7d"/><rect x="810.38" y="1326.50" width="8.17" height="18.40" fill="#ff7d7d"/><rect x="817.55" y="1326.50" width="8.17" height="18.40" fill="#ff6e6e"/><rect x="824.72" y="1326.50" width="8.17" height="18.40" fill="#ff6e6e"/><rect x="831.89" y="1326.50" width="8.17" height="18.40" fill="#ff5555"/><rect x="839.06" y="1326.50" width="8.17" height="18.40" fill="#ff5555"/><rect x="846.23" y="1326.50" width="7.17" height="18.40" fill="#f50000"/></g><rect x="266.8" y="36.5" width="108.4" height="24" fill="url(#ge)"/><rect x="584.5" y="36.5" width="109.6" height="24" fill="url(#grA)"/><rect x="273.8" y="1241" width="129.6" height="21.5" fill="url(#ge)"/><rect x="554.7" y="1241" width="156.3" height="22" fill="url(#grB)"/><text class="s" transform="translate(112.3,45.7) scale(0.953,1)" font-size="52.2">A</text><text x="267.6" y="25.4" font-size="30.5">Expression</text><text x="585" y="25.4" font-size="30.4">REST Score</text><text x="267.7" y="91.8" font-size="24.3" text-anchor="middle">−2.5</text><text x="325.0" y="91.8" font-size="24.3" text-anchor="middle">0.0</text><text x="377.2" y="91.8" font-size="24.3" text-anchor="middle">2.4</text><text x="585.0" y="91.8" font-size="24.3" text-anchor="middle">−1.2</text><text x="640.3" y="91.8" font-size="24.3" text-anchor="middle">0.0</text><text x="697.0" y="91.8" font-size="24.3" text-anchor="middle">1.3</text><text x="3.4" y="132.8" font-size="20.8">RESTscore</text><text transform="translate(894.7,190.25) scale(1,0.96)" font-size="25.2">AP3B2</text><text transform="translate(894.7,262.35) scale(1,0.96)" font-size="25.2">BSN</text><text transform="translate(894.7,333.00) scale(1,0.96)" font-size="25.2">CHGB</text><text transform="translate(894.7,403.45) scale(1,0.96)" font-size="25.2">KCNB1</text><text transform="translate(894.7,474.10) scale(1,0.96)" font-size="25.2">MAPK8IP2</text><text transform="translate(894.7,545.50) scale(1,0.96)" font-size="25.2">PGBD5</text><text transform="translate(894.7,617.10) scale(1,0.96)" font-size="25.2">RTN2</text><text transform="translate(894.7,689.05) scale(1,0.96)" font-size="25.2">SCAMP5</text><text transform="translate(894.7,760.30) scale(1,0.96)" font-size="25.2">SCGB1D2</text><text transform="translate(894.7,831.00) scale(1,0.96)" font-size="25.2">SNAP25</text><text transform="translate(894.7,902.70) scale(1,0.96)" font-size="25.2">STMN3</text><text transform="translate(894.7,974.10) scale(1,0.96)" font-size="25.2">SYP</text><clipPath id="clab"><rect x="100" y="1002" width="800" height="171.4"/></clipPath><g clip-path="url(#clab)"><text transform="translate(140.7,1014) rotate(-90) scale(1.04,1)" font-size="25" text-anchor="end">LAN−6</text><text transform="translate(167.1,1014) rotate(-90) scale(1.04,1)" font-size="25" text-anchor="end">CHP−134</text><text transform="translate(193.4,1014) rotate(-90) scale(1.04,1)" font-size="25" text-anchor="end">TGW</text><text transform="translate(219.8,1014) rotate(-90) scale(1.04,1)" font-size="25" text-anchor="end">MHH−NB−11</text><text transform="translate(246.2,1014) rotate(-90) scale(1.04,1)" font-size="25" text-anchor="end">NB14</text><text transform="translate(272.5,1014) rotate(-90) scale(1.04,1)" font-size="25" text-anchor="end">SK−N−DZ</text><text transform="translate(298.9,1014) rotate(-90) scale(1.04,1)" font-size="25" text-anchor="end">SIMA</text><text transform="translate(325.3,1014) rotate(-90) scale(1.04,1)" font-size="25" text-anchor="end">KP−N−YN</text><text transform="translate(351.6,1014) rotate(-90) scale(1.04,1)" font-size="25" text-anchor="end">NB1</text><text transform="translate(378.0,1014) rotate(-90) scale(1.04,1)" font-size="25" text-anchor="end">NB17</text><text transform="translate(404.4,1014) rotate(-90) scale(1.04,1)" font-size="25" text-anchor="end">NB6</text><text transform="translate(430.7,1014) rotate(-90) scale(1.04,1)" font-size="25" text-anchor="end">NH−12</text><text transform="translate(457.1,1014) rotate(-90) scale(1.04,1)" font-size="25" text-anchor="end">SK−N−FI</text><text transform="translate(483.5,1014) rotate(-90) scale(1.04,1)" font-size="25" text-anchor="end">IMR−5</text><text transform="translate(509.9,1014) rotate(-90) scale(1.04,1)" font-size="25" text-anchor="end">−N−RT−BM−1</text><text transform="translate(536.2,1014) rotate(-90) scale(1.04,1)" font-size="25" text-anchor="end">NB13</text><text transform="translate(562.6,1014) rotate(-90) scale(1.04,1)" font-size="25" text-anchor="end">KP−N−YS</text><text transform="translate(589.0,1014) rotate(-90) scale(1.04,1)" font-size="25" text-anchor="end">NB10</text><text transform="translate(615.3,1014) rotate(-90) scale(1.04,1)" font-size="25" text-anchor="end">SK−N−AS</text><text transform="translate(641.7,1014) rotate(-90) scale(1.04,1)" font-size="25" text-anchor="end">MC−IXC</text><text transform="translate(668.1,1014) rotate(-90) scale(1.04,1)" font-size="25" text-anchor="end">NBsusSR</text><text transform="translate(694.4,1014) rotate(-90) scale(1.04,1)" font-size="25" text-anchor="end">GOTO</text><text transform="translate(720.8,1014) rotate(-90) scale(1.04,1)" font-size="25" text-anchor="end">NB69</text><text transform="translate(747.2,1014) rotate(-90) scale(1.04,1)" font-size="25" text-anchor="end">NB7</text><text transform="translate(773.5,1014) rotate(-90) scale(1.04,1)" font-size="25" text-anchor="end">CHP−212</text><text transform="translate(799.9,1014) rotate(-90) scale(1.04,1)" font-size="25" text-anchor="end">NB5</text><text transform="translate(826.3,1014) rotate(-90) scale(1.04,1)" font-size="25" text-anchor="end">GI−ME−N</text><text transform="translate(852.6,1014) rotate(-90) scale(1.04,1)" font-size="25" text-anchor="end">NB12</text><text transform="translate(879.0,1014) rotate(-90) scale(1.04,1)" font-size="25" text-anchor="end">ACN</text></g><text class="s" transform="translate(133.3,1236.6) scale(0.96,1)" font-size="45.6">B</text><text x="273.6" y="1229.9" font-size="31.3">Expression</text><text x="553.7" y="1229.9" font-size="31.3">REST Score</text><text x="274.2" y="1297.0" font-size="25.8" text-anchor="middle">−2.9</text><text x="342.5" y="1297.0" font-size="25.8" text-anchor="middle">0.0</text><text x="407.0" y="1297.0" font-size="25.8" text-anchor="middle">2.9</text><text x="554.4" y="1297.2" font-size="25.8" text-anchor="middle">−1.8</text><text x="638.2" y="1297.2" font-size="25.8" text-anchor="middle">0.0</text><text x="714.4" y="1297.2" font-size="25.8" text-anchor="middle">1.7</text><text x="11.2" y="1343" font-size="21.4">RESTscore</text><text x="865.8" y="1430.2" font-size="26">SCGB1D2</text><text x="865.8" y="1558.0" font-size="26">VGF</text><text x="865.8" y="1685.8" font-size="26">CPLX2</text><text x="865.8" y="1813.5" font-size="26">BSN</text><text x="865.8" y="1927.3" font-size="26">SCAMP5</text><text x="865.8" y="1957.1" font-size="26">(37545_at)</text><text x="865.8" y="2055.1" font-size="26">SCAMP5</text><text x="865.8" y="2084.9" font-size="26">(37546_r_at)</text><text x="865.8" y="2196.9" font-size="26">SNAP25</text><circle cx="71" cy="71" r="0.8" fill="#888"/></svg></body></html>
